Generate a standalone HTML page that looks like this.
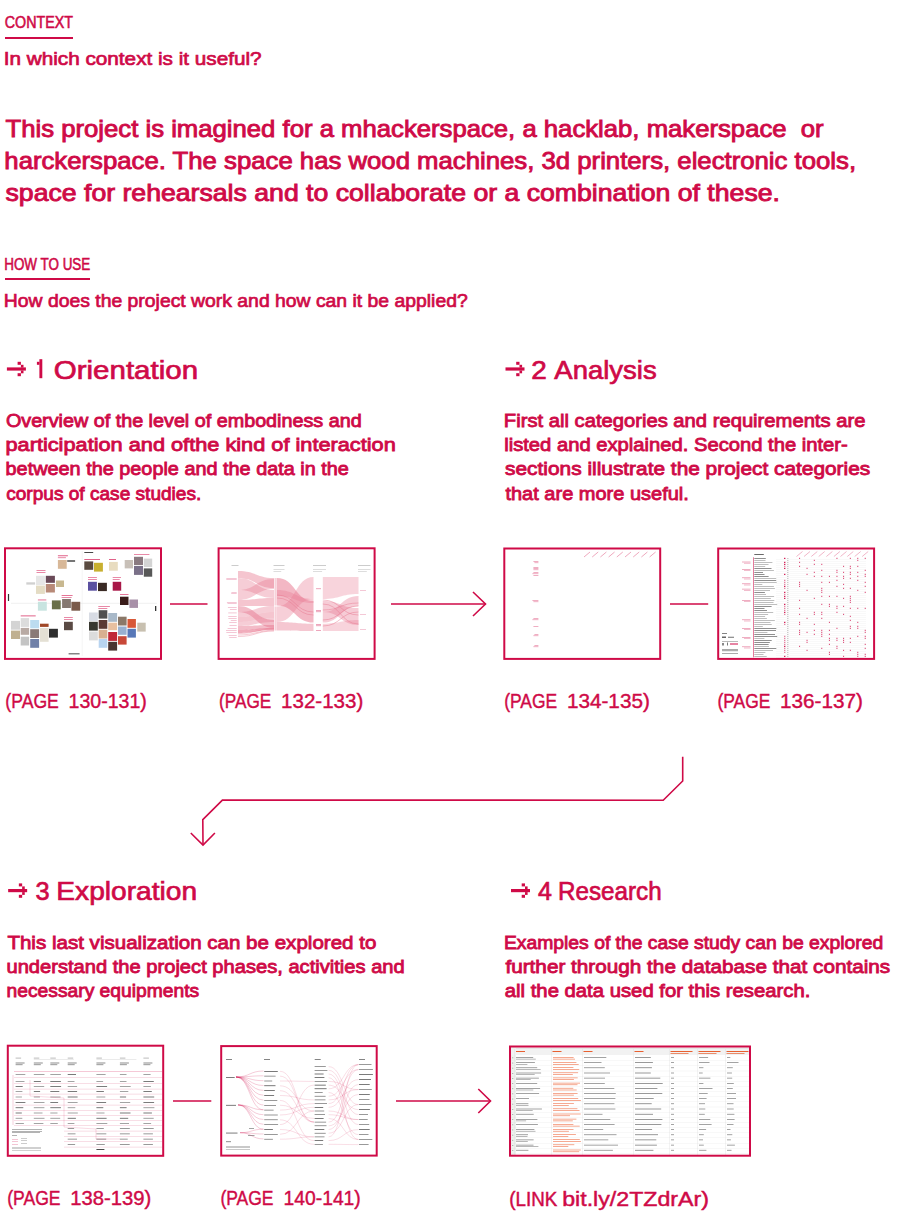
<!DOCTYPE html>
<html><head><meta charset="utf-8"><title>How to use</title>
<style>
html,body{margin:0;padding:0;background:#fff;}
body{width:920px;height:1216px;overflow:hidden;position:relative;}
svg{position:absolute;left:0;top:0;display:block;}
text{font-family:"Liberation Sans",sans-serif;}
</style></head><body>
<svg width="920" height="1216" viewBox="0 0 920 1216">
<line x1="11" y1="603.3" x2="157" y2="603.3" stroke="#d6d6d6" stroke-width="0.4"/>
<line x1="82.2" y1="551" x2="82.2" y2="656" stroke="#e6e6e6" stroke-width="0.4"/>
<rect x="7.9" y="594.0" width="1.2" height="7.0" fill="#333"/>
<rect x="155.0" y="606.0" width="1.3" height="5.0" fill="#333"/>
<rect x="57.9" y="555.4" width="10.0" height="0.8" fill="#cf0a47" fill-opacity="0.8"/>
<rect x="57.9" y="557.5" width="8.0" height="0.6" fill="#cf0a47" fill-opacity="0.8"/>
<rect x="36.5" y="570.3" width="9.0" height="0.6" fill="#cf0a47" fill-opacity="0.8"/>
<rect x="36.5" y="572.4" width="9.0" height="0.6" fill="#cf0a47" fill-opacity="0.8"/>
<rect x="37.9" y="599.6" width="8.4" height="0.7" fill="#cf0a47" fill-opacity="0.8"/>
<rect x="61.6" y="595.0" width="11.0" height="0.7" fill="#cf0a47" fill-opacity="0.8"/>
<rect x="61.6" y="597.0" width="10.0" height="0.6" fill="#cf0a47" fill-opacity="0.8"/>
<rect x="20.7" y="615.5" width="15.0" height="0.8" fill="#cf0a47" fill-opacity="0.8"/>
<rect x="64.0" y="617.0" width="8.8" height="0.6" fill="#cf0a47" fill-opacity="0.8"/>
<rect x="64.0" y="619.3" width="8.8" height="0.6" fill="#cf0a47" fill-opacity="0.8"/>
<rect x="84.3" y="559.0" width="15.7" height="0.8" fill="#cf0a47" fill-opacity="0.8"/>
<rect x="109.0" y="559.0" width="7.0" height="0.8" fill="#cf0a47" fill-opacity="0.8"/>
<rect x="134.0" y="554.2" width="15.4" height="0.6" fill="#cf0a47" fill-opacity="0.8"/>
<rect x="88.0" y="577.3" width="8.9" height="0.6" fill="#cf0a47" fill-opacity="0.8"/>
<rect x="88.0" y="579.3" width="8.9" height="0.6" fill="#cf0a47" fill-opacity="0.8"/>
<rect x="112.7" y="577.3" width="8.3" height="0.6" fill="#cf0a47" fill-opacity="0.8"/>
<rect x="112.7" y="579.3" width="7.0" height="0.6" fill="#cf0a47" fill-opacity="0.8"/>
<rect x="120.0" y="594.3" width="8.5" height="0.7" fill="#cf0a47" fill-opacity="0.8"/>
<rect x="98.3" y="606.2" width="11.6" height="0.6" fill="#cf0a47" fill-opacity="0.8"/>
<rect x="98.3" y="608.3" width="9.0" height="0.6" fill="#cf0a47" fill-opacity="0.8"/>
<rect x="57.9" y="560.0" width="8.8" height="8.8" fill="#d8b898"/>
<rect x="67.2" y="560.2" width="7.9" height="1.6" fill="#555"/>
<rect x="26.3" y="582.3" width="8.8" height="2.3" fill="#d0d0d0"/>
<rect x="36.0" y="575.8" width="8.9" height="9.3" fill="#e6e6e6"/>
<rect x="45.8" y="575.8" width="9.1" height="7.0" fill="#6a4a58"/>
<rect x="45.8" y="584.0" width="9.1" height="8.5" fill="#b88a78"/>
<rect x="36.0" y="585.6" width="8.9" height="8.3" fill="#e4dcc4"/>
<rect x="56.0" y="580.5" width="8.0" height="6.5" fill="#c8b890"/>
<rect x="37.9" y="601.8" width="8.9" height="8.9" fill="#c8e4e0"/>
<rect x="51.9" y="600.4" width="8.8" height="8.9" fill="#6a7048"/>
<rect x="62.1" y="599.0" width="8.8" height="9.0" fill="#857870"/>
<rect x="71.4" y="601.8" width="8.8" height="8.9" fill="#7a5a4a"/>
<rect x="11.0" y="620.9" width="9.0" height="8.8" fill="#d4d4d4"/>
<rect x="11.0" y="630.6" width="9.0" height="8.4" fill="#c0b090"/>
<rect x="20.7" y="618.1" width="8.4" height="8.8" fill="#dcdcdc"/>
<rect x="20.7" y="627.9" width="8.4" height="6.9" fill="#b8aaa4"/>
<rect x="20.7" y="636.7" width="8.4" height="8.8" fill="#c4c4c4"/>
<rect x="30.2" y="620.0" width="8.9" height="8.3" fill="#bcdcf0"/>
<rect x="30.2" y="629.2" width="8.9" height="8.8" fill="#8a7a78"/>
<rect x="30.2" y="639.0" width="8.9" height="8.8" fill="#7080a8"/>
<rect x="40.0" y="623.7" width="8.6" height="3.2" fill="#a04828"/>
<rect x="40.0" y="627.9" width="8.6" height="13.9" fill="#e4e0d4"/>
<rect x="49.0" y="628.8" width="8.9" height="8.8" fill="#2e2e2e"/>
<rect x="64.0" y="621.8" width="8.8" height="8.4" fill="#5a4a44"/>
<rect x="84.3" y="561.4" width="8.9" height="8.4" fill="#5a4a40"/>
<rect x="94.0" y="562.8" width="8.9" height="8.8" fill="#c8b030"/>
<rect x="109.0" y="561.9" width="8.8" height="8.8" fill="#e8dcc0"/>
<rect x="124.7" y="560.0" width="8.3" height="8.4" fill="#c8c0b8"/>
<rect x="134.0" y="556.8" width="9.0" height="8.3" fill="#8a7a80"/>
<rect x="134.0" y="566.0" width="9.0" height="8.9" fill="#7a7088"/>
<rect x="143.8" y="558.6" width="8.4" height="8.4" fill="#d4d4d4"/>
<rect x="143.8" y="568.4" width="8.4" height="8.3" fill="#585858"/>
<rect x="88.0" y="581.8" width="8.9" height="8.9" fill="#5a50a0"/>
<rect x="98.0" y="582.8" width="8.9" height="8.3" fill="#3a2a24"/>
<rect x="112.7" y="581.8" width="8.5" height="8.9" fill="#a81848"/>
<rect x="120.0" y="596.7" width="8.5" height="8.3" fill="#3a1c1a"/>
<rect x="129.4" y="599.5" width="8.6" height="8.4" fill="#a890a8"/>
<rect x="89.0" y="612.5" width="8.8" height="8.4" fill="#d8dce4"/>
<rect x="89.0" y="621.8" width="8.8" height="8.8" fill="#383830"/>
<rect x="89.0" y="631.6" width="8.8" height="8.8" fill="#dcdcdc"/>
<rect x="98.7" y="610.2" width="8.6" height="8.4" fill="#505050"/>
<rect x="98.7" y="620.0" width="8.6" height="8.8" fill="#5a3a34"/>
<rect x="98.7" y="629.7" width="8.6" height="8.8" fill="#d8b090"/>
<rect x="98.7" y="639.0" width="8.6" height="8.8" fill="#b8d4f0"/>
<rect x="108.2" y="613.0" width="8.9" height="8.8" fill="#a8b8c8"/>
<rect x="108.2" y="622.7" width="8.9" height="7.5" fill="#e8c0a0"/>
<rect x="108.2" y="632.0" width="8.9" height="8.9" fill="#c02838"/>
<rect x="108.2" y="641.8" width="8.9" height="8.8" fill="#4a3430"/>
<rect x="118.0" y="616.7" width="8.6" height="8.8" fill="#8a7868"/>
<rect x="118.0" y="626.5" width="8.6" height="8.3" fill="#98b0d0"/>
<rect x="118.0" y="636.2" width="8.6" height="8.4" fill="#c84838"/>
<rect x="127.5" y="619.0" width="8.4" height="8.8" fill="#d85838"/>
<rect x="127.5" y="628.8" width="8.4" height="8.8" fill="#5878b8"/>
<rect x="137.3" y="622.7" width="8.4" height="8.9" fill="#c8c0b0"/>
<rect x="68.6" y="653.2" width="11.0" height="1.2" fill="#666"/>
<rect x="84.3" y="552.0" width="8.9" height="0.9" fill="#333"/>
<rect x="231.5" y="565.0" width="7.0" height="0.5" fill="#999"/>
<rect x="273.5" y="565.0" width="11.0" height="0.5" fill="#999"/>
<rect x="313.0" y="565.0" width="13.0" height="0.5" fill="#999"/>
<rect x="358.0" y="565.0" width="12.5" height="0.5" fill="#999"/>
<rect x="273.5" y="569.0" width="11.0" height="0.4" fill="#aaa"/>
<rect x="273.5" y="571.0" width="7.7" height="0.4" fill="#aaa"/>
<rect x="313.0" y="569.0" width="13.0" height="0.4" fill="#aaa"/>
<rect x="313.0" y="571.0" width="9.1" height="0.4" fill="#aaa"/>
<rect x="358.0" y="569.0" width="12.5" height="0.4" fill="#aaa"/>
<rect x="358.0" y="571.0" width="8.8" height="0.4" fill="#aaa"/>
<rect x="226.3" y="578.0" width="10.4" height="0.5" fill="#cf0a47" fill-opacity="0.45"/>
<rect x="226.3" y="579.5" width="10.4" height="0.5" fill="#cf0a47" fill-opacity="0.45"/>
<rect x="231.4" y="592.0" width="5.3" height="0.5" fill="#cf0a47" fill-opacity="0.45"/>
<rect x="231.2" y="593.5" width="5.5" height="0.5" fill="#cf0a47" fill-opacity="0.45"/>
<rect x="226.9" y="602.0" width="9.8" height="0.5" fill="#cf0a47" fill-opacity="0.45"/>
<rect x="227.5" y="603.5" width="9.2" height="0.5" fill="#cf0a47" fill-opacity="0.45"/>
<rect x="227.9" y="607.5" width="8.8" height="0.5" fill="#cf0a47" fill-opacity="0.45"/>
<rect x="229.9" y="609.0" width="6.8" height="0.5" fill="#cf0a47" fill-opacity="0.45"/>
<rect x="228.2" y="612.7" width="8.5" height="0.5" fill="#cf0a47" fill-opacity="0.45"/>
<rect x="228.2" y="616.5" width="8.5" height="0.5" fill="#cf0a47" fill-opacity="0.45"/>
<rect x="228.4" y="618.0" width="8.3" height="0.5" fill="#cf0a47" fill-opacity="0.45"/>
<rect x="230.8" y="620.5" width="5.9" height="0.5" fill="#cf0a47" fill-opacity="0.45"/>
<rect x="229.2" y="622.5" width="7.5" height="0.5" fill="#cf0a47" fill-opacity="0.45"/>
<rect x="229.5" y="625.0" width="7.2" height="0.5" fill="#cf0a47" fill-opacity="0.45"/>
<rect x="227.6" y="628.0" width="9.1" height="0.5" fill="#cf0a47" fill-opacity="0.45"/>
<rect x="226.0" y="630.5" width="10.7" height="0.5" fill="#cf0a47" fill-opacity="0.45"/>
<rect x="226.3" y="632.5" width="10.4" height="0.5" fill="#cf0a47" fill-opacity="0.45"/>
<rect x="228.6" y="635.0" width="8.1" height="0.5" fill="#cf0a47" fill-opacity="0.45"/>
<rect x="229.2" y="637.5" width="7.5" height="0.5" fill="#cf0a47" fill-opacity="0.45"/>
<path d="M238.0,571.0 C256.0,571.0 256.0,578.0 274.0,578.0 L274.0,588.0 C256.0,588.0 256.0,578.0 238.0,578.0 Z" fill="#e87a92" fill-opacity="0.4375"/>
<path d="M238.0,578.0 C256.0,578.0 256.0,590.0 274.0,590.0 L274.0,598.0 C256.0,598.0 256.0,590.0 238.0,590.0 Z" fill="#e87a92" fill-opacity="0.375"/>
<path d="M238.0,590.0 C256.0,590.0 256.0,579.0 274.0,579.0 L274.0,589.0 C256.0,589.0 256.0,600.0 238.0,600.0 Z" fill="#e87a92" fill-opacity="0.375"/>
<path d="M238.0,600.0 C256.0,600.0 256.0,598.0 274.0,598.0 L274.0,606.0 C256.0,606.0 256.0,606.0 238.0,606.0 Z" fill="#e87a92" fill-opacity="0.4375"/>
<path d="M238.0,606.0 C256.0,606.0 256.0,620.0 274.0,620.0 L274.0,628.0 C256.0,628.0 256.0,612.0 238.0,612.0 Z" fill="#e87a92" fill-opacity="0.5"/>
<path d="M238.0,612.0 C256.0,612.0 256.0,606.0 274.0,606.0 L274.0,612.0 C256.0,612.0 256.0,617.0 238.0,617.0 Z" fill="#e87a92" fill-opacity="0.375"/>
<path d="M238.0,617.0 C256.0,617.0 256.0,612.0 274.0,612.0 L274.0,618.0 C256.0,618.0 256.0,622.0 238.0,622.0 Z" fill="#e87a92" fill-opacity="0.4375"/>
<path d="M238.0,622.0 C256.0,622.0 256.0,618.0 274.0,618.0 L274.0,622.0 C256.0,622.0 256.0,626.0 238.0,626.0 Z" fill="#e87a92" fill-opacity="0.375"/>
<path d="M238.0,626.0 C256.0,626.0 256.0,625.0 274.0,625.0 L274.0,629.0 C256.0,629.0 256.0,630.0 238.0,630.0 Z" fill="#e87a92" fill-opacity="0.5"/>
<path d="M238.0,630.0 C256.0,630.0 256.0,628.0 274.0,628.0 L274.0,630.0 C256.0,630.0 256.0,633.0 238.0,633.0 Z" fill="#e87a92" fill-opacity="0.625"/>
<path d="M238.0,633.5 C256.0,633.5 256.0,629.0 274.0,629.0" stroke="#e87a92" stroke-width="0.5" stroke-opacity="0.8" fill="none"/>
<path d="M238.0,635.0 C256.0,635.0 256.0,630.5 274.0,630.5" stroke="#e87a92" stroke-width="0.5" stroke-opacity="0.8" fill="none"/>
<path d="M238.0,636.5 C256.0,636.5 256.0,631.0 274.0,631.0" stroke="#e87a92" stroke-width="0.5" stroke-opacity="0.8" fill="none"/>
<rect x="274.5" y="578.0" width="2.3" height="27.5" fill="#e87a92" fill-opacity="0.35"/>
<rect x="274.5" y="606.5" width="2.3" height="24.0" fill="#e87a92" fill-opacity="0.35"/>
<path d="M277.0,606.5 C295.2,606.5 295.2,577.0 313.5,577.0 L313.5,599.0 C295.2,599.0 295.2,622.0 277.0,622.0 Z" fill="#e87a92" fill-opacity="0.36"/>
<path d="M277.0,578.0 C295.2,578.0 295.2,601.0 313.5,601.0 L313.5,622.6 C295.2,622.6 295.2,605.5 277.0,605.5 Z" fill="#e87a92" fill-opacity="0.54"/>
<path d="M277.0,622.0 C295.2,622.0 295.2,623.7 313.5,623.7 L313.5,631.0 C295.2,631.0 295.2,630.5 277.0,630.5 Z" fill="#e87a92" fill-opacity="0.42"/>
<path d="M277.0,590.0 C295.2,590.0 295.2,599.0 313.5,599.0 L313.5,603.0 C295.2,603.0 295.2,596.0 277.0,596.0 Z" fill="#e87a92" fill-opacity="0.36"/>
<rect x="316.0" y="588.5" width="5.0" height="0.6" fill="#cf0a47" fill-opacity="0.6"/>
<rect x="316.0" y="610.0" width="5.0" height="0.6" fill="#cf0a47" fill-opacity="0.6"/>
<rect x="316.0" y="611.5" width="5.0" height="0.6" fill="#cf0a47" fill-opacity="0.6"/>
<rect x="316.0" y="624.0" width="5.0" height="0.6" fill="#cf0a47" fill-opacity="0.6"/>
<rect x="316.0" y="625.5" width="5.0" height="0.6" fill="#cf0a47" fill-opacity="0.6"/>
<rect x="316.0" y="630.0" width="5.0" height="0.6" fill="#cf0a47" fill-opacity="0.6"/>
<path d="M322.8,577.0 C340.6,577.0 340.6,577.0 358.5,577.0 L358.5,594.0 C340.6,594.0 340.6,599.0 322.8,599.0 Z" fill="#e87a92" fill-opacity="0.32"/>
<path d="M322.8,601.0 C340.6,601.0 340.6,608.0 358.5,608.0 L358.5,625.0 C340.6,625.0 340.6,612.0 322.8,612.0 Z" fill="#e87a92" fill-opacity="0.38"/>
<path d="M322.8,612.0 C340.6,612.0 340.6,596.0 358.5,596.0 L358.5,606.0 C340.6,606.0 340.6,622.6 322.8,622.6 Z" fill="#e87a92" fill-opacity="0.38"/>
<path d="M322.8,623.7 C340.6,623.7 340.6,620.0 358.5,620.0 L358.5,631.0 C340.6,631.0 340.6,631.0 322.8,631.0 Z" fill="#e87a92" fill-opacity="0.32"/>
<rect x="360.0" y="590.0" width="6.0" height="0.5" fill="#cf0a47" fill-opacity="0.45"/>
<rect x="360.0" y="614.0" width="6.0" height="0.5" fill="#cf0a47" fill-opacity="0.45"/>
<rect x="360.0" y="629.0" width="6.0" height="0.5" fill="#cf0a47" fill-opacity="0.45"/>
<path d="M322.8,600.0 C340.6,600.0 340.6,615.0 358.5,615.0" stroke="#e87a92" stroke-width="0.6" stroke-opacity="0.8" fill="none"/>
<path d="M322.8,610.0 C340.6,610.0 340.6,603.0 358.5,603.0" stroke="#e87a92" stroke-width="0.6" stroke-opacity="0.8" fill="none"/>
<path d="M322.8,604.0 C340.6,604.0 340.6,624.0 358.5,624.0" stroke="#e87a92" stroke-width="0.6" stroke-opacity="0.8" fill="none"/>
<path d="M322.8,620.0 C340.6,620.0 340.6,606.0 358.5,606.0" stroke="#e87a92" stroke-width="0.6" stroke-opacity="0.8" fill="none"/>
<path d="M322.8,626.0 C340.6,626.0 340.6,612.0 358.5,612.0" stroke="#e87a92" stroke-width="0.6" stroke-opacity="0.8" fill="none"/>
<path d="M277.0,595.0 C295.2,595.0 295.2,612.0 313.5,612.0" stroke="#e87a92" stroke-width="0.6" stroke-opacity="0.8" fill="none"/>
<path d="M277.0,598.0 C295.2,598.0 295.2,615.0 313.5,615.0" stroke="#e87a92" stroke-width="0.6" stroke-opacity="0.8" fill="none"/>
<rect x="533.4" y="561.0" width="5.0" height="0.6" fill="#cf0a47" fill-opacity="0.55"/>
<rect x="534.4" y="562.5" width="4.0" height="0.6" fill="#cf0a47" fill-opacity="0.55"/>
<rect x="533.4" y="567.0" width="5.0" height="0.6" fill="#cf0a47" fill-opacity="0.55"/>
<rect x="533.4" y="568.2" width="5.0" height="0.6" fill="#cf0a47" fill-opacity="0.55"/>
<rect x="533.4" y="569.5" width="5.0" height="0.6" fill="#cf0a47" fill-opacity="0.55"/>
<rect x="533.4" y="572.0" width="5.0" height="0.6" fill="#cf0a47" fill-opacity="0.55"/>
<rect x="532.4" y="573.5" width="6.0" height="0.6" fill="#cf0a47" fill-opacity="0.55"/>
<rect x="533.4" y="575.0" width="5.0" height="0.6" fill="#cf0a47" fill-opacity="0.55"/>
<rect x="532.4" y="600.0" width="6.0" height="0.6" fill="#cf0a47" fill-opacity="0.55"/>
<rect x="533.4" y="601.5" width="5.0" height="0.6" fill="#cf0a47" fill-opacity="0.55"/>
<rect x="533.4" y="618.0" width="5.0" height="0.6" fill="#cf0a47" fill-opacity="0.55"/>
<rect x="532.4" y="619.5" width="6.0" height="0.6" fill="#cf0a47" fill-opacity="0.55"/>
<rect x="533.4" y="626.0" width="5.0" height="0.6" fill="#cf0a47" fill-opacity="0.55"/>
<rect x="534.4" y="634.0" width="4.0" height="0.6" fill="#cf0a47" fill-opacity="0.55"/>
<rect x="533.4" y="635.5" width="5.0" height="0.6" fill="#cf0a47" fill-opacity="0.55"/>
<rect x="534.4" y="645.0" width="4.0" height="0.6" fill="#cf0a47" fill-opacity="0.55"/>
<rect x="533.4" y="646.5" width="5.0" height="0.6" fill="#cf0a47" fill-opacity="0.55"/>
<line x1="584.0" y1="557" x2="590.0" y2="552" stroke="#cf0a47" stroke-width="0.6" stroke-opacity="0.6"/>
<line x1="592.2" y1="557" x2="598.2" y2="552" stroke="#cf0a47" stroke-width="0.6" stroke-opacity="0.6"/>
<line x1="600.4" y1="557" x2="606.4" y2="552" stroke="#cf0a47" stroke-width="0.6" stroke-opacity="0.6"/>
<line x1="608.6" y1="557" x2="614.6" y2="552" stroke="#cf0a47" stroke-width="0.6" stroke-opacity="0.6"/>
<line x1="616.8" y1="557" x2="622.8" y2="552" stroke="#cf0a47" stroke-width="0.6" stroke-opacity="0.6"/>
<line x1="625.0" y1="557" x2="631.0" y2="552" stroke="#cf0a47" stroke-width="0.6" stroke-opacity="0.6"/>
<line x1="633.2" y1="557" x2="639.2" y2="552" stroke="#cf0a47" stroke-width="0.6" stroke-opacity="0.6"/>
<line x1="641.4" y1="557" x2="647.4" y2="552" stroke="#cf0a47" stroke-width="0.6" stroke-opacity="0.6"/>
<line x1="649.6" y1="557" x2="655.6" y2="552" stroke="#cf0a47" stroke-width="0.6" stroke-opacity="0.6"/>
<rect x="754.3" y="554.0" width="9.5" height="0.8" fill="#444"/>
<rect x="753.2" y="557.3" width="0.6" height="100.0" fill="#cf0a47" fill-opacity="0.9"/>
<rect x="754.3" y="558.0" width="11.5" height="0.6" fill="#333" fill-opacity="0.9"/>
<rect x="776.0" y="559.1" width="90.0" height="0.2" fill="#e0e0e0"/>
<rect x="784.0" y="557.8" width="1.4" height="1.2" fill="#cf0a47" fill-opacity="0.9"/>
<rect x="787.0" y="558.0" width="1.5" height="0.6" fill="#aaa"/>
<rect x="799.0" y="557.8" width="1.1" height="1.1" fill="#cf0a47" fill-opacity="0.75"/>
<rect x="836.4" y="557.8" width="1.1" height="1.1" fill="#cf0a47" fill-opacity="0.75"/>
<rect x="849.8" y="557.8" width="1.1" height="1.1" fill="#cf0a47" fill-opacity="0.75"/>
<rect x="857.2" y="557.8" width="1.1" height="1.1" fill="#cf0a47" fill-opacity="0.75"/>
<rect x="864.7" y="557.8" width="1.1" height="1.1" fill="#cf0a47" fill-opacity="0.75"/>
<rect x="754.3" y="560.0" width="11.2" height="0.6" fill="#777" fill-opacity="0.8"/>
<rect x="776.0" y="561.1" width="90.0" height="0.2" fill="#e0e0e0"/>
<rect x="787.0" y="560.0" width="1.5" height="0.6" fill="#aaa"/>
<rect x="813.8" y="559.8" width="1.1" height="1.1" fill="#cf0a47" fill-opacity="0.75"/>
<rect x="857.2" y="559.8" width="1.1" height="1.1" fill="#cf0a47" fill-opacity="0.75"/>
<rect x="754.3" y="562.0" width="18.1" height="0.6" fill="#777" fill-opacity="0.8"/>
<rect x="776.0" y="563.1" width="90.0" height="0.2" fill="#e0e0e0"/>
<rect x="784.0" y="561.8" width="1.4" height="1.2" fill="#cf0a47" fill-opacity="0.9"/>
<rect x="787.0" y="562.0" width="1.5" height="0.6" fill="#aaa"/>
<rect x="799.0" y="561.8" width="1.1" height="1.1" fill="#cf0a47" fill-opacity="0.75"/>
<rect x="754.3" y="564.0" width="14.2" height="0.6" fill="#777" fill-opacity="0.8"/>
<rect x="776.0" y="565.1" width="90.0" height="0.2" fill="#e0e0e0"/>
<rect x="784.0" y="563.8" width="1.4" height="1.2" fill="#cf0a47" fill-opacity="0.9"/>
<rect x="787.0" y="564.0" width="1.5" height="0.6" fill="#aaa"/>
<rect x="813.8" y="563.8" width="1.1" height="1.1" fill="#cf0a47" fill-opacity="0.75"/>
<rect x="821.2" y="563.8" width="1.1" height="1.1" fill="#cf0a47" fill-opacity="0.75"/>
<rect x="754.3" y="566.0" width="10.9" height="0.6" fill="#777" fill-opacity="0.8"/>
<rect x="776.0" y="567.1" width="90.0" height="0.2" fill="#e0e0e0"/>
<rect x="784.0" y="565.8" width="1.4" height="1.2" fill="#cf0a47" fill-opacity="0.5"/>
<rect x="787.0" y="566.0" width="1.5" height="0.6" fill="#aaa"/>
<rect x="799.0" y="565.8" width="1.1" height="1.1" fill="#cf0a47" fill-opacity="0.75"/>
<rect x="843.0" y="565.8" width="1.1" height="1.1" fill="#cf0a47" fill-opacity="0.75"/>
<rect x="849.8" y="565.8" width="1.1" height="1.1" fill="#cf0a47" fill-opacity="0.75"/>
<rect x="857.2" y="565.8" width="1.1" height="1.1" fill="#cf0a47" fill-opacity="0.75"/>
<rect x="754.3" y="568.0" width="17.2" height="0.6" fill="#333" fill-opacity="0.9"/>
<rect x="776.0" y="569.1" width="90.0" height="0.2" fill="#e0e0e0"/>
<rect x="784.0" y="567.8" width="1.4" height="1.2" fill="#cf0a47" fill-opacity="0.9"/>
<rect x="787.0" y="568.0" width="1.5" height="0.6" fill="#aaa"/>
<rect x="806.5" y="567.8" width="1.1" height="1.1" fill="#cf0a47" fill-opacity="0.75"/>
<rect x="849.8" y="567.8" width="1.1" height="1.1" fill="#cf0a47" fill-opacity="0.75"/>
<rect x="754.3" y="570.0" width="19.6" height="0.6" fill="#777" fill-opacity="0.8"/>
<rect x="776.0" y="571.1" width="90.0" height="0.2" fill="#e0e0e0"/>
<rect x="787.0" y="570.0" width="1.5" height="0.6" fill="#aaa"/>
<rect x="821.2" y="569.8" width="1.1" height="1.1" fill="#cf0a47" fill-opacity="0.75"/>
<rect x="836.4" y="569.8" width="1.1" height="1.1" fill="#cf0a47" fill-opacity="0.75"/>
<rect x="864.7" y="569.8" width="1.1" height="1.1" fill="#cf0a47" fill-opacity="0.75"/>
<rect x="754.3" y="572.0" width="8.7" height="0.6" fill="#333" fill-opacity="0.9"/>
<rect x="776.0" y="573.1" width="90.0" height="0.2" fill="#e0e0e0"/>
<rect x="787.0" y="572.0" width="1.5" height="0.6" fill="#aaa"/>
<rect x="813.8" y="571.8" width="1.1" height="1.1" fill="#cf0a47" fill-opacity="0.75"/>
<rect x="836.4" y="571.8" width="1.1" height="1.1" fill="#cf0a47" fill-opacity="0.75"/>
<rect x="843.0" y="571.8" width="1.1" height="1.1" fill="#cf0a47" fill-opacity="0.75"/>
<rect x="849.8" y="571.8" width="1.1" height="1.1" fill="#cf0a47" fill-opacity="0.75"/>
<rect x="857.2" y="571.8" width="1.1" height="1.1" fill="#cf0a47" fill-opacity="0.75"/>
<rect x="754.3" y="574.0" width="10.2" height="0.6" fill="#333" fill-opacity="0.9"/>
<rect x="776.0" y="575.1" width="90.0" height="0.2" fill="#e0e0e0"/>
<rect x="784.0" y="573.8" width="1.4" height="1.2" fill="#cf0a47" fill-opacity="0.9"/>
<rect x="787.0" y="574.0" width="1.5" height="0.6" fill="#aaa"/>
<rect x="806.5" y="573.8" width="1.1" height="1.1" fill="#cf0a47" fill-opacity="0.75"/>
<rect x="849.8" y="573.8" width="1.1" height="1.1" fill="#cf0a47" fill-opacity="0.75"/>
<rect x="864.7" y="573.8" width="1.1" height="1.1" fill="#cf0a47" fill-opacity="0.75"/>
<rect x="754.3" y="576.0" width="14.3" height="0.6" fill="#333" fill-opacity="0.9"/>
<rect x="776.0" y="577.1" width="90.0" height="0.2" fill="#e0e0e0"/>
<rect x="787.0" y="576.0" width="1.5" height="0.6" fill="#aaa"/>
<rect x="813.8" y="575.8" width="1.1" height="1.1" fill="#cf0a47" fill-opacity="0.75"/>
<rect x="821.2" y="575.8" width="1.1" height="1.1" fill="#cf0a47" fill-opacity="0.75"/>
<rect x="828.9" y="575.8" width="1.1" height="1.1" fill="#cf0a47" fill-opacity="0.75"/>
<rect x="836.4" y="575.8" width="1.1" height="1.1" fill="#cf0a47" fill-opacity="0.75"/>
<rect x="843.0" y="575.8" width="1.1" height="1.1" fill="#cf0a47" fill-opacity="0.75"/>
<rect x="857.2" y="575.8" width="1.1" height="1.1" fill="#cf0a47" fill-opacity="0.75"/>
<rect x="864.7" y="575.8" width="1.1" height="1.1" fill="#cf0a47" fill-opacity="0.75"/>
<rect x="754.3" y="578.0" width="21.9" height="0.6" fill="#777" fill-opacity="0.8"/>
<rect x="776.0" y="579.1" width="90.0" height="0.2" fill="#e0e0e0"/>
<rect x="787.0" y="578.0" width="1.5" height="0.6" fill="#aaa"/>
<rect x="843.0" y="577.8" width="1.1" height="1.1" fill="#cf0a47" fill-opacity="0.75"/>
<rect x="849.8" y="577.8" width="1.1" height="1.1" fill="#cf0a47" fill-opacity="0.75"/>
<rect x="754.3" y="580.0" width="21.9" height="0.6" fill="#333" fill-opacity="0.9"/>
<rect x="776.0" y="581.1" width="90.0" height="0.2" fill="#e0e0e0"/>
<rect x="784.0" y="579.8" width="1.4" height="1.2" fill="#cf0a47" fill-opacity="0.5"/>
<rect x="787.0" y="580.0" width="1.5" height="0.6" fill="#aaa"/>
<rect x="836.4" y="579.8" width="1.1" height="1.1" fill="#cf0a47" fill-opacity="0.75"/>
<rect x="857.2" y="579.8" width="1.1" height="1.1" fill="#cf0a47" fill-opacity="0.75"/>
<rect x="754.3" y="582.0" width="22.4" height="0.6" fill="#777" fill-opacity="0.8"/>
<rect x="776.0" y="583.1" width="90.0" height="0.2" fill="#e0e0e0"/>
<rect x="784.0" y="581.8" width="1.4" height="1.2" fill="#cf0a47" fill-opacity="0.5"/>
<rect x="787.0" y="582.0" width="1.5" height="0.6" fill="#aaa"/>
<rect x="799.0" y="581.8" width="1.1" height="1.1" fill="#cf0a47" fill-opacity="0.75"/>
<rect x="821.2" y="581.8" width="1.1" height="1.1" fill="#cf0a47" fill-opacity="0.75"/>
<rect x="828.9" y="581.8" width="1.1" height="1.1" fill="#cf0a47" fill-opacity="0.75"/>
<rect x="864.7" y="581.8" width="1.1" height="1.1" fill="#cf0a47" fill-opacity="0.75"/>
<rect x="754.3" y="584.0" width="8.0" height="0.6" fill="#777" fill-opacity="0.8"/>
<rect x="776.0" y="585.1" width="90.0" height="0.2" fill="#e0e0e0"/>
<rect x="784.0" y="583.8" width="1.4" height="1.2" fill="#cf0a47" fill-opacity="0.5"/>
<rect x="787.0" y="584.0" width="1.5" height="0.6" fill="#aaa"/>
<rect x="799.0" y="583.8" width="1.1" height="1.1" fill="#cf0a47" fill-opacity="0.75"/>
<rect x="843.0" y="583.8" width="1.1" height="1.1" fill="#cf0a47" fill-opacity="0.75"/>
<rect x="754.3" y="586.0" width="19.6" height="0.6" fill="#777" fill-opacity="0.8"/>
<rect x="776.0" y="587.1" width="90.0" height="0.2" fill="#e0e0e0"/>
<rect x="784.0" y="585.8" width="1.4" height="1.2" fill="#cf0a47" fill-opacity="0.9"/>
<rect x="787.0" y="586.0" width="1.5" height="0.6" fill="#aaa"/>
<rect x="799.0" y="585.8" width="1.1" height="1.1" fill="#cf0a47" fill-opacity="0.75"/>
<rect x="836.4" y="585.8" width="1.1" height="1.1" fill="#cf0a47" fill-opacity="0.75"/>
<rect x="864.7" y="585.8" width="1.1" height="1.1" fill="#cf0a47" fill-opacity="0.75"/>
<rect x="754.3" y="588.0" width="20.6" height="0.6" fill="#777" fill-opacity="0.8"/>
<rect x="776.0" y="589.1" width="90.0" height="0.2" fill="#e0e0e0"/>
<rect x="784.0" y="587.8" width="1.4" height="1.2" fill="#cf0a47" fill-opacity="0.5"/>
<rect x="787.0" y="588.0" width="1.5" height="0.6" fill="#aaa"/>
<rect x="821.2" y="587.8" width="1.1" height="1.1" fill="#cf0a47" fill-opacity="0.75"/>
<rect x="843.0" y="587.8" width="1.1" height="1.1" fill="#cf0a47" fill-opacity="0.75"/>
<rect x="849.8" y="587.8" width="1.1" height="1.1" fill="#cf0a47" fill-opacity="0.75"/>
<rect x="754.3" y="590.0" width="15.7" height="0.6" fill="#777" fill-opacity="0.8"/>
<rect x="776.0" y="591.1" width="90.0" height="0.2" fill="#e0e0e0"/>
<rect x="787.0" y="590.0" width="1.5" height="0.6" fill="#aaa"/>
<rect x="806.5" y="589.8" width="1.1" height="1.1" fill="#cf0a47" fill-opacity="0.75"/>
<rect x="821.2" y="589.8" width="1.1" height="1.1" fill="#cf0a47" fill-opacity="0.75"/>
<rect x="857.2" y="589.8" width="1.1" height="1.1" fill="#cf0a47" fill-opacity="0.75"/>
<rect x="754.3" y="592.0" width="10.6" height="0.6" fill="#333" fill-opacity="0.9"/>
<rect x="776.0" y="593.1" width="90.0" height="0.2" fill="#e0e0e0"/>
<rect x="784.0" y="591.8" width="1.4" height="1.2" fill="#cf0a47" fill-opacity="0.9"/>
<rect x="787.0" y="592.0" width="1.5" height="0.6" fill="#aaa"/>
<rect x="821.2" y="591.8" width="1.1" height="1.1" fill="#cf0a47" fill-opacity="0.75"/>
<rect x="864.7" y="591.8" width="1.1" height="1.1" fill="#cf0a47" fill-opacity="0.75"/>
<rect x="754.3" y="594.0" width="11.7" height="0.6" fill="#777" fill-opacity="0.8"/>
<rect x="776.0" y="595.1" width="90.0" height="0.2" fill="#e0e0e0"/>
<rect x="784.0" y="593.8" width="1.4" height="1.2" fill="#cf0a47" fill-opacity="0.5"/>
<rect x="787.0" y="594.0" width="1.5" height="0.6" fill="#aaa"/>
<rect x="754.3" y="596.0" width="19.8" height="0.6" fill="#777" fill-opacity="0.8"/>
<rect x="776.0" y="597.1" width="90.0" height="0.2" fill="#e0e0e0"/>
<rect x="784.0" y="595.8" width="1.4" height="1.2" fill="#cf0a47" fill-opacity="0.9"/>
<rect x="787.0" y="596.0" width="1.5" height="0.6" fill="#aaa"/>
<rect x="821.2" y="595.8" width="1.1" height="1.1" fill="#cf0a47" fill-opacity="0.75"/>
<rect x="828.9" y="595.8" width="1.1" height="1.1" fill="#cf0a47" fill-opacity="0.75"/>
<rect x="836.4" y="595.8" width="1.1" height="1.1" fill="#cf0a47" fill-opacity="0.75"/>
<rect x="849.8" y="595.8" width="1.1" height="1.1" fill="#cf0a47" fill-opacity="0.75"/>
<rect x="754.3" y="598.0" width="16.6" height="0.6" fill="#777" fill-opacity="0.8"/>
<rect x="776.0" y="599.1" width="90.0" height="0.2" fill="#e0e0e0"/>
<rect x="784.0" y="597.8" width="1.4" height="1.2" fill="#cf0a47" fill-opacity="0.9"/>
<rect x="787.0" y="598.0" width="1.5" height="0.6" fill="#aaa"/>
<rect x="813.8" y="597.8" width="1.1" height="1.1" fill="#cf0a47" fill-opacity="0.75"/>
<rect x="843.0" y="597.8" width="1.1" height="1.1" fill="#cf0a47" fill-opacity="0.75"/>
<rect x="849.8" y="597.8" width="1.1" height="1.1" fill="#cf0a47" fill-opacity="0.75"/>
<rect x="754.3" y="600.0" width="20.0" height="0.6" fill="#777" fill-opacity="0.8"/>
<rect x="776.0" y="601.1" width="90.0" height="0.2" fill="#e0e0e0"/>
<rect x="787.0" y="600.0" width="1.5" height="0.6" fill="#aaa"/>
<rect x="799.0" y="599.8" width="1.1" height="1.1" fill="#cf0a47" fill-opacity="0.75"/>
<rect x="849.8" y="599.8" width="1.1" height="1.1" fill="#cf0a47" fill-opacity="0.75"/>
<rect x="754.3" y="602.0" width="19.2" height="0.6" fill="#777" fill-opacity="0.8"/>
<rect x="776.0" y="603.1" width="90.0" height="0.2" fill="#e0e0e0"/>
<rect x="787.0" y="602.0" width="1.5" height="0.6" fill="#aaa"/>
<rect x="849.8" y="601.8" width="1.1" height="1.1" fill="#cf0a47" fill-opacity="0.75"/>
<rect x="754.3" y="604.0" width="22.9" height="0.6" fill="#777" fill-opacity="0.8"/>
<rect x="776.0" y="605.1" width="90.0" height="0.2" fill="#e0e0e0"/>
<rect x="784.0" y="603.8" width="1.4" height="1.2" fill="#cf0a47" fill-opacity="0.9"/>
<rect x="787.0" y="604.0" width="1.5" height="0.6" fill="#aaa"/>
<rect x="821.2" y="603.8" width="1.1" height="1.1" fill="#cf0a47" fill-opacity="0.75"/>
<rect x="828.9" y="603.8" width="1.1" height="1.1" fill="#cf0a47" fill-opacity="0.75"/>
<rect x="754.3" y="606.0" width="17.3" height="0.6" fill="#333" fill-opacity="0.9"/>
<rect x="776.0" y="607.1" width="90.0" height="0.2" fill="#e0e0e0"/>
<rect x="784.0" y="605.8" width="1.4" height="1.2" fill="#cf0a47" fill-opacity="0.5"/>
<rect x="787.0" y="606.0" width="1.5" height="0.6" fill="#aaa"/>
<rect x="828.9" y="605.8" width="1.1" height="1.1" fill="#cf0a47" fill-opacity="0.75"/>
<rect x="836.4" y="605.8" width="1.1" height="1.1" fill="#cf0a47" fill-opacity="0.75"/>
<rect x="843.0" y="605.8" width="1.1" height="1.1" fill="#cf0a47" fill-opacity="0.75"/>
<rect x="754.3" y="608.0" width="10.2" height="0.6" fill="#333" fill-opacity="0.9"/>
<rect x="776.0" y="609.1" width="90.0" height="0.2" fill="#e0e0e0"/>
<rect x="784.0" y="607.8" width="1.4" height="1.2" fill="#cf0a47" fill-opacity="0.5"/>
<rect x="787.0" y="608.0" width="1.5" height="0.6" fill="#aaa"/>
<rect x="799.0" y="607.8" width="1.1" height="1.1" fill="#cf0a47" fill-opacity="0.75"/>
<rect x="836.4" y="607.8" width="1.1" height="1.1" fill="#cf0a47" fill-opacity="0.75"/>
<rect x="849.8" y="607.8" width="1.1" height="1.1" fill="#cf0a47" fill-opacity="0.75"/>
<rect x="857.2" y="607.8" width="1.1" height="1.1" fill="#cf0a47" fill-opacity="0.75"/>
<rect x="864.7" y="607.8" width="1.1" height="1.1" fill="#cf0a47" fill-opacity="0.75"/>
<rect x="754.3" y="610.0" width="12.7" height="0.6" fill="#333" fill-opacity="0.9"/>
<rect x="776.0" y="611.1" width="90.0" height="0.2" fill="#e0e0e0"/>
<rect x="784.0" y="609.8" width="1.4" height="1.2" fill="#cf0a47" fill-opacity="0.5"/>
<rect x="787.0" y="610.0" width="1.5" height="0.6" fill="#aaa"/>
<rect x="754.3" y="612.0" width="18.9" height="0.6" fill="#777" fill-opacity="0.8"/>
<rect x="776.0" y="613.1" width="90.0" height="0.2" fill="#e0e0e0"/>
<rect x="784.0" y="611.8" width="1.4" height="1.2" fill="#cf0a47" fill-opacity="0.9"/>
<rect x="787.0" y="612.0" width="1.5" height="0.6" fill="#aaa"/>
<rect x="813.8" y="611.8" width="1.1" height="1.1" fill="#cf0a47" fill-opacity="0.75"/>
<rect x="821.2" y="611.8" width="1.1" height="1.1" fill="#cf0a47" fill-opacity="0.75"/>
<rect x="836.4" y="611.8" width="1.1" height="1.1" fill="#cf0a47" fill-opacity="0.75"/>
<rect x="754.3" y="614.0" width="13.8" height="0.6" fill="#777" fill-opacity="0.8"/>
<rect x="776.0" y="615.1" width="90.0" height="0.2" fill="#e0e0e0"/>
<rect x="784.0" y="613.8" width="1.4" height="1.2" fill="#cf0a47" fill-opacity="0.5"/>
<rect x="787.0" y="614.0" width="1.5" height="0.6" fill="#aaa"/>
<rect x="799.0" y="613.8" width="1.1" height="1.1" fill="#cf0a47" fill-opacity="0.75"/>
<rect x="813.8" y="613.8" width="1.1" height="1.1" fill="#cf0a47" fill-opacity="0.75"/>
<rect x="821.2" y="613.8" width="1.1" height="1.1" fill="#cf0a47" fill-opacity="0.75"/>
<rect x="843.0" y="613.8" width="1.1" height="1.1" fill="#cf0a47" fill-opacity="0.75"/>
<rect x="754.3" y="616.0" width="10.8" height="0.6" fill="#777" fill-opacity="0.8"/>
<rect x="776.0" y="617.1" width="90.0" height="0.2" fill="#e0e0e0"/>
<rect x="787.0" y="616.0" width="1.5" height="0.6" fill="#aaa"/>
<rect x="849.8" y="615.8" width="1.1" height="1.1" fill="#cf0a47" fill-opacity="0.75"/>
<rect x="754.3" y="618.0" width="12.6" height="0.6" fill="#777" fill-opacity="0.8"/>
<rect x="776.0" y="619.1" width="90.0" height="0.2" fill="#e0e0e0"/>
<rect x="787.0" y="618.0" width="1.5" height="0.6" fill="#aaa"/>
<rect x="806.5" y="617.8" width="1.1" height="1.1" fill="#cf0a47" fill-opacity="0.75"/>
<rect x="821.2" y="617.8" width="1.1" height="1.1" fill="#cf0a47" fill-opacity="0.75"/>
<rect x="754.3" y="620.0" width="20.5" height="0.6" fill="#777" fill-opacity="0.8"/>
<rect x="776.0" y="621.1" width="90.0" height="0.2" fill="#e0e0e0"/>
<rect x="787.0" y="620.0" width="1.5" height="0.6" fill="#aaa"/>
<rect x="849.8" y="619.8" width="1.1" height="1.1" fill="#cf0a47" fill-opacity="0.75"/>
<rect x="754.3" y="622.0" width="16.2" height="0.6" fill="#777" fill-opacity="0.8"/>
<rect x="776.0" y="623.1" width="90.0" height="0.2" fill="#e0e0e0"/>
<rect x="784.0" y="621.8" width="1.4" height="1.2" fill="#cf0a47" fill-opacity="0.9"/>
<rect x="787.0" y="622.0" width="1.5" height="0.6" fill="#aaa"/>
<rect x="799.0" y="621.8" width="1.1" height="1.1" fill="#cf0a47" fill-opacity="0.75"/>
<rect x="828.9" y="621.8" width="1.1" height="1.1" fill="#cf0a47" fill-opacity="0.75"/>
<rect x="857.2" y="621.8" width="1.1" height="1.1" fill="#cf0a47" fill-opacity="0.75"/>
<rect x="754.3" y="624.0" width="17.4" height="0.6" fill="#777" fill-opacity="0.8"/>
<rect x="776.0" y="625.1" width="90.0" height="0.2" fill="#e0e0e0"/>
<rect x="784.0" y="623.8" width="1.4" height="1.2" fill="#cf0a47" fill-opacity="0.5"/>
<rect x="787.0" y="624.0" width="1.5" height="0.6" fill="#aaa"/>
<rect x="799.0" y="623.8" width="1.1" height="1.1" fill="#cf0a47" fill-opacity="0.75"/>
<rect x="813.8" y="623.8" width="1.1" height="1.1" fill="#cf0a47" fill-opacity="0.75"/>
<rect x="754.3" y="626.0" width="8.5" height="0.6" fill="#777" fill-opacity="0.8"/>
<rect x="776.0" y="627.1" width="90.0" height="0.2" fill="#e0e0e0"/>
<rect x="787.0" y="626.0" width="1.5" height="0.6" fill="#aaa"/>
<rect x="849.8" y="625.8" width="1.1" height="1.1" fill="#cf0a47" fill-opacity="0.75"/>
<rect x="857.2" y="625.8" width="1.1" height="1.1" fill="#cf0a47" fill-opacity="0.75"/>
<rect x="754.3" y="628.0" width="22.0" height="0.6" fill="#333" fill-opacity="0.9"/>
<rect x="776.0" y="629.1" width="90.0" height="0.2" fill="#e0e0e0"/>
<rect x="787.0" y="628.0" width="1.5" height="0.6" fill="#aaa"/>
<rect x="836.4" y="627.8" width="1.1" height="1.1" fill="#cf0a47" fill-opacity="0.75"/>
<rect x="849.8" y="627.8" width="1.1" height="1.1" fill="#cf0a47" fill-opacity="0.75"/>
<rect x="857.2" y="627.8" width="1.1" height="1.1" fill="#cf0a47" fill-opacity="0.75"/>
<rect x="754.3" y="630.0" width="21.7" height="0.6" fill="#333" fill-opacity="0.9"/>
<rect x="776.0" y="631.1" width="90.0" height="0.2" fill="#e0e0e0"/>
<rect x="787.0" y="630.0" width="1.5" height="0.6" fill="#aaa"/>
<rect x="799.0" y="629.8" width="1.1" height="1.1" fill="#cf0a47" fill-opacity="0.75"/>
<rect x="813.8" y="629.8" width="1.1" height="1.1" fill="#cf0a47" fill-opacity="0.75"/>
<rect x="821.2" y="629.8" width="1.1" height="1.1" fill="#cf0a47" fill-opacity="0.75"/>
<rect x="828.9" y="629.8" width="1.1" height="1.1" fill="#cf0a47" fill-opacity="0.75"/>
<rect x="864.7" y="629.8" width="1.1" height="1.1" fill="#cf0a47" fill-opacity="0.75"/>
<rect x="754.3" y="632.0" width="13.1" height="0.6" fill="#777" fill-opacity="0.8"/>
<rect x="776.0" y="633.1" width="90.0" height="0.2" fill="#e0e0e0"/>
<rect x="787.0" y="632.0" width="1.5" height="0.6" fill="#aaa"/>
<rect x="799.0" y="631.8" width="1.1" height="1.1" fill="#cf0a47" fill-opacity="0.75"/>
<rect x="806.5" y="631.8" width="1.1" height="1.1" fill="#cf0a47" fill-opacity="0.75"/>
<rect x="821.2" y="631.8" width="1.1" height="1.1" fill="#cf0a47" fill-opacity="0.75"/>
<rect x="864.7" y="631.8" width="1.1" height="1.1" fill="#cf0a47" fill-opacity="0.75"/>
<rect x="754.3" y="634.0" width="20.7" height="0.6" fill="#333" fill-opacity="0.9"/>
<rect x="776.0" y="635.1" width="90.0" height="0.2" fill="#e0e0e0"/>
<rect x="787.0" y="634.0" width="1.5" height="0.6" fill="#aaa"/>
<rect x="799.0" y="633.8" width="1.1" height="1.1" fill="#cf0a47" fill-opacity="0.75"/>
<rect x="813.8" y="633.8" width="1.1" height="1.1" fill="#cf0a47" fill-opacity="0.75"/>
<rect x="821.2" y="633.8" width="1.1" height="1.1" fill="#cf0a47" fill-opacity="0.75"/>
<rect x="828.9" y="633.8" width="1.1" height="1.1" fill="#cf0a47" fill-opacity="0.75"/>
<rect x="754.3" y="636.0" width="22.9" height="0.6" fill="#333" fill-opacity="0.9"/>
<rect x="776.0" y="637.1" width="90.0" height="0.2" fill="#e0e0e0"/>
<rect x="784.0" y="635.8" width="1.4" height="1.2" fill="#cf0a47" fill-opacity="0.5"/>
<rect x="787.0" y="636.0" width="1.5" height="0.6" fill="#aaa"/>
<rect x="821.2" y="635.8" width="1.1" height="1.1" fill="#cf0a47" fill-opacity="0.75"/>
<rect x="857.2" y="635.8" width="1.1" height="1.1" fill="#cf0a47" fill-opacity="0.75"/>
<rect x="864.7" y="635.8" width="1.1" height="1.1" fill="#cf0a47" fill-opacity="0.75"/>
<rect x="754.3" y="638.0" width="10.1" height="0.6" fill="#777" fill-opacity="0.8"/>
<rect x="776.0" y="639.1" width="90.0" height="0.2" fill="#e0e0e0"/>
<rect x="784.0" y="637.8" width="1.4" height="1.2" fill="#cf0a47" fill-opacity="0.5"/>
<rect x="787.0" y="638.0" width="1.5" height="0.6" fill="#aaa"/>
<rect x="828.9" y="637.8" width="1.1" height="1.1" fill="#cf0a47" fill-opacity="0.75"/>
<rect x="836.4" y="637.8" width="1.1" height="1.1" fill="#cf0a47" fill-opacity="0.75"/>
<rect x="843.0" y="637.8" width="1.1" height="1.1" fill="#cf0a47" fill-opacity="0.75"/>
<rect x="849.8" y="637.8" width="1.1" height="1.1" fill="#cf0a47" fill-opacity="0.75"/>
<rect x="864.7" y="637.8" width="1.1" height="1.1" fill="#cf0a47" fill-opacity="0.75"/>
<rect x="754.3" y="640.0" width="17.4" height="0.6" fill="#333" fill-opacity="0.9"/>
<rect x="776.0" y="641.1" width="90.0" height="0.2" fill="#e0e0e0"/>
<rect x="784.0" y="639.8" width="1.4" height="1.2" fill="#cf0a47" fill-opacity="0.5"/>
<rect x="787.0" y="640.0" width="1.5" height="0.6" fill="#aaa"/>
<rect x="806.5" y="639.8" width="1.1" height="1.1" fill="#cf0a47" fill-opacity="0.75"/>
<rect x="828.9" y="639.8" width="1.1" height="1.1" fill="#cf0a47" fill-opacity="0.75"/>
<rect x="836.4" y="639.8" width="1.1" height="1.1" fill="#cf0a47" fill-opacity="0.75"/>
<rect x="843.0" y="639.8" width="1.1" height="1.1" fill="#cf0a47" fill-opacity="0.75"/>
<rect x="754.3" y="642.0" width="15.5" height="0.6" fill="#333" fill-opacity="0.9"/>
<rect x="776.0" y="643.1" width="90.0" height="0.2" fill="#e0e0e0"/>
<rect x="784.0" y="641.8" width="1.4" height="1.2" fill="#cf0a47" fill-opacity="0.5"/>
<rect x="787.0" y="642.0" width="1.5" height="0.6" fill="#aaa"/>
<rect x="806.5" y="641.8" width="1.1" height="1.1" fill="#cf0a47" fill-opacity="0.75"/>
<rect x="843.0" y="641.8" width="1.1" height="1.1" fill="#cf0a47" fill-opacity="0.75"/>
<rect x="849.8" y="641.8" width="1.1" height="1.1" fill="#cf0a47" fill-opacity="0.75"/>
<rect x="754.3" y="644.0" width="14.3" height="0.6" fill="#333" fill-opacity="0.9"/>
<rect x="776.0" y="645.1" width="90.0" height="0.2" fill="#e0e0e0"/>
<rect x="784.0" y="643.8" width="1.4" height="1.2" fill="#cf0a47" fill-opacity="0.5"/>
<rect x="787.0" y="644.0" width="1.5" height="0.6" fill="#aaa"/>
<rect x="828.9" y="643.8" width="1.1" height="1.1" fill="#cf0a47" fill-opacity="0.75"/>
<rect x="864.7" y="643.8" width="1.1" height="1.1" fill="#cf0a47" fill-opacity="0.75"/>
<rect x="754.3" y="646.0" width="14.6" height="0.6" fill="#777" fill-opacity="0.8"/>
<rect x="776.0" y="647.1" width="90.0" height="0.2" fill="#e0e0e0"/>
<rect x="784.0" y="645.8" width="1.4" height="1.2" fill="#cf0a47" fill-opacity="0.9"/>
<rect x="787.0" y="646.0" width="1.5" height="0.6" fill="#aaa"/>
<rect x="799.0" y="645.8" width="1.1" height="1.1" fill="#cf0a47" fill-opacity="0.75"/>
<rect x="836.4" y="645.8" width="1.1" height="1.1" fill="#cf0a47" fill-opacity="0.75"/>
<rect x="754.3" y="648.0" width="22.0" height="0.6" fill="#333" fill-opacity="0.9"/>
<rect x="776.0" y="649.1" width="90.0" height="0.2" fill="#e0e0e0"/>
<rect x="784.0" y="647.8" width="1.4" height="1.2" fill="#cf0a47" fill-opacity="0.5"/>
<rect x="787.0" y="648.0" width="1.5" height="0.6" fill="#aaa"/>
<rect x="821.2" y="647.8" width="1.1" height="1.1" fill="#cf0a47" fill-opacity="0.75"/>
<rect x="836.4" y="647.8" width="1.1" height="1.1" fill="#cf0a47" fill-opacity="0.75"/>
<rect x="864.7" y="647.8" width="1.1" height="1.1" fill="#cf0a47" fill-opacity="0.75"/>
<rect x="754.3" y="650.0" width="18.7" height="0.6" fill="#777" fill-opacity="0.8"/>
<rect x="776.0" y="651.1" width="90.0" height="0.2" fill="#e0e0e0"/>
<rect x="784.0" y="649.8" width="1.4" height="1.2" fill="#cf0a47" fill-opacity="0.5"/>
<rect x="787.0" y="650.0" width="1.5" height="0.6" fill="#aaa"/>
<rect x="806.5" y="649.8" width="1.1" height="1.1" fill="#cf0a47" fill-opacity="0.75"/>
<rect x="843.0" y="649.8" width="1.1" height="1.1" fill="#cf0a47" fill-opacity="0.75"/>
<rect x="849.8" y="649.8" width="1.1" height="1.1" fill="#cf0a47" fill-opacity="0.75"/>
<rect x="754.3" y="652.0" width="11.1" height="0.6" fill="#777" fill-opacity="0.8"/>
<rect x="776.0" y="653.1" width="90.0" height="0.2" fill="#e0e0e0"/>
<rect x="784.0" y="651.8" width="1.4" height="1.2" fill="#cf0a47" fill-opacity="0.5"/>
<rect x="787.0" y="652.0" width="1.5" height="0.6" fill="#aaa"/>
<rect x="828.9" y="651.8" width="1.1" height="1.1" fill="#cf0a47" fill-opacity="0.75"/>
<rect x="857.2" y="651.8" width="1.1" height="1.1" fill="#cf0a47" fill-opacity="0.75"/>
<rect x="754.3" y="654.0" width="9.2" height="0.6" fill="#777" fill-opacity="0.8"/>
<rect x="776.0" y="655.1" width="90.0" height="0.2" fill="#e0e0e0"/>
<rect x="787.0" y="654.0" width="1.5" height="0.6" fill="#aaa"/>
<rect x="828.9" y="653.8" width="1.1" height="1.1" fill="#cf0a47" fill-opacity="0.75"/>
<rect x="857.2" y="653.8" width="1.1" height="1.1" fill="#cf0a47" fill-opacity="0.75"/>
<rect x="864.7" y="653.8" width="1.1" height="1.1" fill="#cf0a47" fill-opacity="0.75"/>
<rect x="754.3" y="656.0" width="12.4" height="0.6" fill="#777" fill-opacity="0.8"/>
<rect x="776.0" y="657.1" width="90.0" height="0.2" fill="#e0e0e0"/>
<rect x="784.0" y="655.8" width="1.4" height="1.2" fill="#cf0a47" fill-opacity="0.9"/>
<rect x="787.0" y="656.0" width="1.5" height="0.6" fill="#aaa"/>
<rect x="843.0" y="655.8" width="1.1" height="1.1" fill="#cf0a47" fill-opacity="0.75"/>
<rect x="857.2" y="655.8" width="1.1" height="1.1" fill="#cf0a47" fill-opacity="0.75"/>
<rect x="864.7" y="655.8" width="1.1" height="1.1" fill="#cf0a47" fill-opacity="0.75"/>
<line x1="796.5" y1="556.5" x2="802.5" y2="551.5" stroke="#cf0a47" stroke-width="0.5" stroke-opacity="0.6"/>
<line x1="804.0" y1="556.5" x2="810.0" y2="551.5" stroke="#cf0a47" stroke-width="0.5" stroke-opacity="0.6"/>
<line x1="811.3" y1="556.5" x2="817.3" y2="551.5" stroke="#cf0a47" stroke-width="0.5" stroke-opacity="0.6"/>
<line x1="818.7" y1="556.5" x2="824.7" y2="551.5" stroke="#cf0a47" stroke-width="0.5" stroke-opacity="0.6"/>
<line x1="826.4" y1="556.5" x2="832.4" y2="551.5" stroke="#cf0a47" stroke-width="0.5" stroke-opacity="0.6"/>
<line x1="833.9" y1="556.5" x2="839.9" y2="551.5" stroke="#cf0a47" stroke-width="0.5" stroke-opacity="0.6"/>
<line x1="840.5" y1="556.5" x2="846.5" y2="551.5" stroke="#cf0a47" stroke-width="0.5" stroke-opacity="0.6"/>
<line x1="847.3" y1="556.5" x2="853.3" y2="551.5" stroke="#cf0a47" stroke-width="0.5" stroke-opacity="0.6"/>
<line x1="854.7" y1="556.5" x2="860.7" y2="551.5" stroke="#cf0a47" stroke-width="0.5" stroke-opacity="0.6"/>
<line x1="862.2" y1="556.5" x2="868.2" y2="551.5" stroke="#cf0a47" stroke-width="0.5" stroke-opacity="0.6"/>
<rect x="742.0" y="561.7" width="8.5" height="0.6" fill="#cf0a47" fill-opacity="0.55"/>
<rect x="744.0" y="562.9" width="6.5" height="0.6" fill="#cf0a47" fill-opacity="0.45"/>
<rect x="742.0" y="569.0" width="8.5" height="0.6" fill="#cf0a47" fill-opacity="0.55"/>
<rect x="744.0" y="570.2" width="6.5" height="0.6" fill="#cf0a47" fill-opacity="0.45"/>
<rect x="742.0" y="577.5" width="8.5" height="0.6" fill="#cf0a47" fill-opacity="0.55"/>
<rect x="744.0" y="578.7" width="6.5" height="0.6" fill="#cf0a47" fill-opacity="0.45"/>
<rect x="742.0" y="583.5" width="8.5" height="0.6" fill="#cf0a47" fill-opacity="0.55"/>
<rect x="744.0" y="584.7" width="6.5" height="0.6" fill="#cf0a47" fill-opacity="0.45"/>
<rect x="742.0" y="588.8" width="8.5" height="0.6" fill="#cf0a47" fill-opacity="0.55"/>
<rect x="744.0" y="590.0" width="6.5" height="0.6" fill="#cf0a47" fill-opacity="0.45"/>
<rect x="742.0" y="600.0" width="8.5" height="0.6" fill="#cf0a47" fill-opacity="0.55"/>
<rect x="744.0" y="601.2" width="6.5" height="0.6" fill="#cf0a47" fill-opacity="0.45"/>
<rect x="742.0" y="619.5" width="8.5" height="0.6" fill="#cf0a47" fill-opacity="0.55"/>
<rect x="744.0" y="620.7" width="6.5" height="0.6" fill="#cf0a47" fill-opacity="0.45"/>
<rect x="742.0" y="628.0" width="8.5" height="0.6" fill="#cf0a47" fill-opacity="0.55"/>
<rect x="744.0" y="629.2" width="6.5" height="0.6" fill="#cf0a47" fill-opacity="0.45"/>
<rect x="742.0" y="637.0" width="8.5" height="0.6" fill="#cf0a47" fill-opacity="0.55"/>
<rect x="744.0" y="638.2" width="6.5" height="0.6" fill="#cf0a47" fill-opacity="0.45"/>
<rect x="742.0" y="646.5" width="8.5" height="0.6" fill="#cf0a47" fill-opacity="0.55"/>
<rect x="744.0" y="647.7" width="6.5" height="0.6" fill="#cf0a47" fill-opacity="0.45"/>
<rect x="722.0" y="633.0" width="5.0" height="0.6" fill="#333"/>
<rect x="722.0" y="636.5" width="4.0" height="1.5" fill="#666"/>
<rect x="728.0" y="636.7" width="6.0" height="1.2" fill="#888"/>
<rect x="722.0" y="641.0" width="16.0" height="0.5" fill="#777"/>
<rect x="722.0" y="643.0" width="2.0" height="2.5" fill="#888"/>
<rect x="727.0" y="642.5" width="0.8" height="3.0" fill="#555"/>
<rect x="730.0" y="643.0" width="8.0" height="2.0" fill="#cf0a47" fill-opacity="0.5"/>
<rect x="722.0" y="649.0" width="16.0" height="0.5" fill="#555"/>
<rect x="722.0" y="650.6" width="16.0" height="0.5" fill="#333"/>
<rect x="722.0" y="653.5" width="16.0" height="0.5" fill="#555"/>
<rect x="15.6" y="1057.8" width="5.5" height="0.5" fill="#777"/>
<rect x="15.6" y="1062.7" width="9.0" height="0.6" fill="#444"/>
<rect x="15.6" y="1064.5" width="7.0" height="0.6" fill="#555"/>
<rect x="33.8" y="1057.8" width="5.5" height="0.5" fill="#777"/>
<rect x="33.8" y="1062.7" width="9.0" height="0.6" fill="#444"/>
<rect x="33.8" y="1064.5" width="7.0" height="0.6" fill="#555"/>
<rect x="50.3" y="1057.8" width="5.5" height="0.5" fill="#777"/>
<rect x="50.3" y="1062.7" width="9.0" height="0.6" fill="#444"/>
<rect x="50.3" y="1064.5" width="7.0" height="0.6" fill="#555"/>
<rect x="67.7" y="1057.8" width="5.5" height="0.5" fill="#777"/>
<rect x="67.7" y="1062.7" width="9.0" height="0.6" fill="#444"/>
<rect x="67.7" y="1064.5" width="7.0" height="0.6" fill="#555"/>
<rect x="96.4" y="1057.8" width="5.5" height="0.5" fill="#777"/>
<rect x="96.4" y="1062.7" width="9.0" height="0.6" fill="#444"/>
<rect x="96.4" y="1064.5" width="7.0" height="0.6" fill="#555"/>
<rect x="119.9" y="1057.8" width="5.5" height="0.5" fill="#777"/>
<rect x="119.9" y="1062.7" width="9.0" height="0.6" fill="#444"/>
<rect x="119.9" y="1064.5" width="7.0" height="0.6" fill="#555"/>
<rect x="143.4" y="1057.8" width="5.5" height="0.5" fill="#777"/>
<rect x="143.4" y="1062.7" width="9.0" height="0.6" fill="#444"/>
<rect x="143.4" y="1064.5" width="7.0" height="0.6" fill="#555"/>
<rect x="33.8" y="1059.0" width="40.0" height="0.3" fill="#bbb"/>
<rect x="96.4" y="1059.0" width="40.0" height="0.3" fill="#bbb"/>
<rect x="14.0" y="1071.0" width="148.0" height="0.4" fill="#cf0a47" fill-opacity="0.55"/>
<rect x="15.6" y="1074.4" width="9.7" height="0.6" fill="#666"/>
<rect x="33.8" y="1074.4" width="10.7" height="0.6" fill="#666"/>
<rect x="50.3" y="1074.4" width="10.6" height="0.6" fill="#666"/>
<rect x="67.7" y="1074.4" width="8.3" height="0.6" fill="#222"/>
<rect x="96.4" y="1074.4" width="9.2" height="0.6" fill="#666"/>
<rect x="119.9" y="1074.4" width="6.6" height="0.6" fill="#666"/>
<rect x="143.4" y="1074.4" width="7.2" height="0.6" fill="#666"/>
<rect x="14.0" y="1077.0" width="148.0" height="0.3" fill="#cf0a47" fill-opacity="0.45"/>
<rect x="15.6" y="1081.0" width="8.9" height="0.6" fill="#666"/>
<rect x="33.8" y="1081.0" width="7.1" height="0.6" fill="#222"/>
<rect x="50.3" y="1081.0" width="10.6" height="0.6" fill="#222"/>
<rect x="67.7" y="1081.0" width="6.8" height="0.6" fill="#666"/>
<rect x="96.4" y="1081.0" width="6.7" height="0.6" fill="#666"/>
<rect x="119.9" y="1081.0" width="6.6" height="0.6" fill="#666"/>
<rect x="143.4" y="1081.0" width="10.4" height="0.6" fill="#222"/>
<rect x="14.0" y="1083.6" width="148.0" height="0.3" fill="#cf0a47" fill-opacity="0.45"/>
<rect x="15.6" y="1086.3" width="7.1" height="0.6" fill="#222"/>
<rect x="33.8" y="1086.3" width="10.4" height="0.6" fill="#666"/>
<rect x="50.3" y="1086.3" width="10.8" height="0.6" fill="#222"/>
<rect x="67.7" y="1086.3" width="9.4" height="0.6" fill="#666"/>
<rect x="96.4" y="1086.3" width="10.7" height="0.6" fill="#222"/>
<rect x="119.9" y="1086.3" width="10.8" height="0.6" fill="#666"/>
<rect x="143.4" y="1086.3" width="7.5" height="0.6" fill="#666"/>
<rect x="14.0" y="1088.9" width="148.0" height="0.3" fill="#cf0a47" fill-opacity="0.45"/>
<rect x="15.6" y="1091.3" width="6.8" height="0.6" fill="#666"/>
<rect x="33.8" y="1091.3" width="6.3" height="0.6" fill="#222"/>
<rect x="50.3" y="1091.3" width="9.0" height="0.6" fill="#222"/>
<rect x="67.7" y="1091.3" width="9.4" height="0.6" fill="#222"/>
<rect x="96.4" y="1091.3" width="7.5" height="0.6" fill="#222"/>
<rect x="119.9" y="1091.3" width="8.4" height="0.6" fill="#666"/>
<rect x="143.4" y="1091.3" width="8.4" height="0.6" fill="#222"/>
<rect x="14.0" y="1093.9" width="148.0" height="0.3" fill="#cf0a47" fill-opacity="0.45"/>
<rect x="15.6" y="1096.7" width="6.3" height="0.6" fill="#666"/>
<rect x="33.8" y="1096.7" width="6.1" height="0.6" fill="#666"/>
<rect x="50.3" y="1096.7" width="10.2" height="0.6" fill="#666"/>
<rect x="67.7" y="1096.7" width="9.9" height="0.6" fill="#222"/>
<rect x="96.4" y="1096.7" width="8.9" height="0.6" fill="#666"/>
<rect x="119.9" y="1096.7" width="6.2" height="0.6" fill="#222"/>
<rect x="143.4" y="1096.7" width="10.8" height="0.6" fill="#222"/>
<rect x="14.0" y="1099.3" width="148.0" height="0.3" fill="#cf0a47" fill-opacity="0.45"/>
<rect x="15.6" y="1102.3" width="9.8" height="0.6" fill="#222"/>
<rect x="33.8" y="1102.3" width="10.7" height="0.6" fill="#666"/>
<rect x="50.3" y="1102.3" width="7.8" height="0.6" fill="#222"/>
<rect x="67.7" y="1102.3" width="9.9" height="0.6" fill="#666"/>
<rect x="96.4" y="1102.3" width="9.7" height="0.6" fill="#222"/>
<rect x="119.9" y="1102.3" width="10.3" height="0.6" fill="#666"/>
<rect x="143.4" y="1102.3" width="10.7" height="0.6" fill="#222"/>
<rect x="14.0" y="1104.9" width="148.0" height="0.3" fill="#cf0a47" fill-opacity="0.45"/>
<rect x="15.6" y="1107.5" width="7.7" height="0.6" fill="#222"/>
<rect x="33.8" y="1107.5" width="10.6" height="0.6" fill="#666"/>
<rect x="50.3" y="1107.5" width="10.6" height="0.6" fill="#222"/>
<rect x="67.7" y="1107.5" width="7.6" height="0.6" fill="#666"/>
<rect x="96.4" y="1107.5" width="6.9" height="0.6" fill="#222"/>
<rect x="119.9" y="1107.5" width="6.7" height="0.6" fill="#222"/>
<rect x="143.4" y="1107.5" width="11.0" height="0.6" fill="#666"/>
<rect x="14.0" y="1110.1" width="148.0" height="0.3" fill="#cf0a47" fill-opacity="0.45"/>
<rect x="15.6" y="1112.7" width="6.2" height="0.6" fill="#222"/>
<rect x="33.8" y="1112.7" width="8.7" height="0.6" fill="#666"/>
<rect x="50.3" y="1112.7" width="7.2" height="0.6" fill="#666"/>
<rect x="67.7" y="1112.7" width="10.1" height="0.6" fill="#666"/>
<rect x="96.4" y="1112.7" width="8.1" height="0.6" fill="#666"/>
<rect x="119.9" y="1112.7" width="10.6" height="0.6" fill="#222"/>
<rect x="143.4" y="1112.7" width="8.5" height="0.6" fill="#222"/>
<rect x="14.0" y="1115.3" width="148.0" height="0.3" fill="#cf0a47" fill-opacity="0.45"/>
<rect x="15.6" y="1117.9" width="6.7" height="0.6" fill="#666"/>
<rect x="33.8" y="1117.9" width="10.7" height="0.6" fill="#666"/>
<rect x="50.3" y="1117.9" width="9.9" height="0.6" fill="#666"/>
<rect x="67.7" y="1117.9" width="8.2" height="0.6" fill="#222"/>
<rect x="96.4" y="1117.9" width="10.2" height="0.6" fill="#222"/>
<rect x="119.9" y="1117.9" width="8.3" height="0.6" fill="#222"/>
<rect x="143.4" y="1117.9" width="10.3" height="0.6" fill="#666"/>
<rect x="14.0" y="1120.5" width="148.0" height="0.3" fill="#cf0a47" fill-opacity="0.45"/>
<rect x="15.6" y="1123.1" width="8.3" height="0.6" fill="#666"/>
<rect x="33.8" y="1123.1" width="9.6" height="0.6" fill="#666"/>
<rect x="50.3" y="1123.1" width="7.5" height="0.6" fill="#666"/>
<rect x="67.7" y="1123.1" width="6.7" height="0.6" fill="#666"/>
<rect x="96.4" y="1123.1" width="10.9" height="0.6" fill="#666"/>
<rect x="119.9" y="1123.1" width="9.1" height="0.6" fill="#666"/>
<rect x="143.4" y="1123.1" width="7.7" height="0.6" fill="#666"/>
<rect x="14.0" y="1125.7" width="148.0" height="0.3" fill="#cf0a47" fill-opacity="0.45"/>
<rect x="67.7" y="1128.3" width="6.4" height="0.6" fill="#555"/>
<rect x="96.4" y="1128.3" width="7.4" height="0.6" fill="#555"/>
<rect x="119.9" y="1128.3" width="9.9" height="0.6" fill="#555"/>
<rect x="143.4" y="1128.3" width="10.3" height="0.6" fill="#555"/>
<rect x="64.0" y="1130.9" width="98.0" height="0.3" fill="#cf0a47" fill-opacity="0.45"/>
<rect x="67.7" y="1133.6" width="7.8" height="0.6" fill="#555"/>
<rect x="96.4" y="1133.6" width="9.9" height="0.6" fill="#555"/>
<rect x="119.9" y="1133.6" width="9.9" height="0.6" fill="#555"/>
<rect x="143.4" y="1133.6" width="9.5" height="0.6" fill="#555"/>
<rect x="64.0" y="1136.2" width="98.0" height="0.3" fill="#cf0a47" fill-opacity="0.45"/>
<rect x="67.7" y="1138.8" width="9.3" height="0.6" fill="#555"/>
<rect x="96.4" y="1138.8" width="9.8" height="0.6" fill="#555"/>
<rect x="119.9" y="1138.8" width="7.8" height="0.6" fill="#555"/>
<rect x="143.4" y="1138.8" width="9.5" height="0.6" fill="#555"/>
<rect x="64.0" y="1141.4" width="98.0" height="0.3" fill="#cf0a47" fill-opacity="0.45"/>
<rect x="67.7" y="1144.3" width="7.4" height="0.6" fill="#555"/>
<rect x="96.4" y="1144.3" width="8.4" height="0.6" fill="#555"/>
<rect x="119.9" y="1144.3" width="9.8" height="0.6" fill="#555"/>
<rect x="143.4" y="1144.3" width="9.5" height="0.6" fill="#555"/>
<rect x="64.0" y="1146.9" width="98.0" height="0.3" fill="#cf0a47" fill-opacity="0.45"/>
<rect x="96.4" y="1149.2" width="8.0" height="0.8" fill="#222"/>
<rect x="12.5" y="1075.0" width="0.3" height="50.0" fill="#cf0a47" fill-opacity="0.3"/>
<rect x="13.3" y="1075.0" width="0.3" height="50.0" fill="#cf0a47" fill-opacity="0.3"/>
<polyline points="30,1080 30,1096 64,1098 64,1127 96,1129 96,1139 120,1139" stroke="#cf0a47" stroke-width="0.3" fill="none" stroke-opacity="0.5"/>
<rect x="12.0" y="1129.5" width="30.0" height="0.5" fill="#666"/>
<rect x="12.0" y="1131.0" width="30.0" height="0.5" fill="#666"/>
<rect x="12.0" y="1132.5" width="28.0" height="0.5" fill="#666"/>
<rect x="12.0" y="1135.0" width="5.0" height="0.5" fill="#666"/>
<rect x="12.0" y="1139.0" width="6.0" height="0.4" fill="#cf0a47" fill-opacity="0.6"/>
<rect x="21.0" y="1138.5" width="6.0" height="0.5" fill="#999"/>
<rect x="12.0" y="1141.0" width="6.0" height="0.4" fill="#cf0a47" fill-opacity="0.6"/>
<rect x="21.0" y="1140.5" width="6.0" height="0.5" fill="#999"/>
<rect x="12.0" y="1144.0" width="6.0" height="0.4" fill="#cf0a47" fill-opacity="0.6"/>
<rect x="21.0" y="1143.5" width="6.0" height="0.5" fill="#999"/>
<rect x="12.0" y="1147.0" width="29.0" height="0.4" fill="#888"/>
<rect x="12.0" y="1148.5" width="29.0" height="0.4" fill="#888"/>
<rect x="12.0" y="1150.5" width="29.0" height="0.4" fill="#888"/>
<rect x="226.0" y="1059.4" width="6.0" height="0.6" fill="#333"/>
<rect x="264.0" y="1059.4" width="6.0" height="0.6" fill="#333"/>
<rect x="314.7" y="1059.4" width="6.0" height="0.6" fill="#333"/>
<rect x="359.0" y="1059.4" width="6.0" height="0.6" fill="#333"/>
<rect x="226.0" y="1077.0" width="8.7" height="0.7" fill="#444"/>
<rect x="226.0" y="1104.9" width="10.0" height="0.7" fill="#444"/>
<rect x="226.0" y="1132.7" width="11.5" height="0.7" fill="#444"/>
<rect x="249.0" y="1128.0" width="5.0" height="0.6" fill="#666"/>
<rect x="248.0" y="1135.2" width="6.5" height="0.6" fill="#666"/>
<rect x="264.2" y="1071.0" width="13.6" height="0.6" fill="#222"/>
<rect x="264.2" y="1075.8" width="11.4" height="0.6" fill="#555"/>
<rect x="264.2" y="1080.7" width="8.0" height="0.6" fill="#555"/>
<rect x="264.2" y="1085.5" width="11.3" height="0.6" fill="#222"/>
<rect x="264.2" y="1090.4" width="10.6" height="0.6" fill="#222"/>
<rect x="264.2" y="1095.2" width="9.9" height="0.6" fill="#222"/>
<rect x="264.2" y="1100.1" width="13.1" height="0.6" fill="#555"/>
<rect x="264.2" y="1105.0" width="11.8" height="0.6" fill="#555"/>
<rect x="264.2" y="1109.8" width="9.4" height="0.6" fill="#555"/>
<rect x="264.2" y="1114.7" width="13.6" height="0.6" fill="#555"/>
<rect x="264.2" y="1119.5" width="13.6" height="0.6" fill="#555"/>
<rect x="264.2" y="1124.3" width="13.9" height="0.6" fill="#555"/>
<rect x="264.2" y="1129.2" width="8.7" height="0.6" fill="#222"/>
<rect x="264.2" y="1134.0" width="13.6" height="0.6" fill="#555"/>
<rect x="264.2" y="1138.9" width="8.7" height="0.6" fill="#555"/>
<rect x="314.6" y="1066.3" width="11.2" height="0.6" fill="#555"/>
<rect x="314.6" y="1070.0" width="12.8" height="0.6" fill="#555"/>
<rect x="314.6" y="1073.7" width="9.0" height="0.6" fill="#222"/>
<rect x="314.6" y="1077.4" width="9.8" height="0.6" fill="#222"/>
<rect x="314.6" y="1081.1" width="12.5" height="0.6" fill="#555"/>
<rect x="314.6" y="1084.8" width="11.2" height="0.6" fill="#222"/>
<rect x="314.6" y="1088.5" width="12.0" height="0.6" fill="#222"/>
<rect x="314.6" y="1092.2" width="8.1" height="0.6" fill="#555"/>
<rect x="314.6" y="1095.9" width="11.0" height="0.6" fill="#555"/>
<rect x="314.6" y="1099.6" width="10.9" height="0.6" fill="#555"/>
<rect x="314.6" y="1103.3" width="12.4" height="0.6" fill="#555"/>
<rect x="314.6" y="1107.0" width="8.6" height="0.6" fill="#222"/>
<rect x="314.6" y="1110.7" width="9.6" height="0.6" fill="#555"/>
<rect x="314.6" y="1114.4" width="10.4" height="0.6" fill="#555"/>
<rect x="314.6" y="1118.1" width="9.0" height="0.6" fill="#222"/>
<rect x="314.6" y="1121.8" width="11.5" height="0.6" fill="#555"/>
<rect x="314.6" y="1125.5" width="11.9" height="0.6" fill="#555"/>
<rect x="314.6" y="1129.2" width="9.7" height="0.6" fill="#222"/>
<rect x="314.6" y="1132.9" width="11.1" height="0.6" fill="#555"/>
<rect x="314.6" y="1136.6" width="9.9" height="0.6" fill="#555"/>
<rect x="314.6" y="1140.3" width="8.6" height="0.6" fill="#222"/>
<rect x="314.6" y="1144.0" width="8.3" height="0.6" fill="#555"/>
<rect x="359.0" y="1064.3" width="12.5" height="0.6" fill="#555"/>
<rect x="359.0" y="1069.3" width="13.9" height="0.6" fill="#555"/>
<rect x="359.0" y="1074.3" width="13.9" height="0.6" fill="#222"/>
<rect x="359.0" y="1079.3" width="12.0" height="0.6" fill="#222"/>
<rect x="359.0" y="1084.3" width="10.7" height="0.6" fill="#222"/>
<rect x="359.0" y="1089.3" width="12.8" height="0.6" fill="#555"/>
<rect x="359.0" y="1094.3" width="10.8" height="0.6" fill="#222"/>
<rect x="359.0" y="1099.3" width="10.5" height="0.6" fill="#555"/>
<rect x="359.0" y="1104.3" width="12.5" height="0.6" fill="#555"/>
<rect x="359.0" y="1109.3" width="10.9" height="0.6" fill="#222"/>
<rect x="359.0" y="1114.3" width="9.0" height="0.6" fill="#555"/>
<rect x="359.0" y="1119.3" width="8.7" height="0.6" fill="#555"/>
<rect x="359.0" y="1124.3" width="10.2" height="0.6" fill="#555"/>
<rect x="359.0" y="1129.3" width="10.7" height="0.6" fill="#222"/>
<rect x="359.0" y="1134.3" width="9.5" height="0.6" fill="#555"/>
<rect x="359.0" y="1139.3" width="13.3" height="0.6" fill="#555"/>
<rect x="359.0" y="1144.3" width="9.6" height="0.6" fill="#555"/>
<path d="M236.0,1077.0 C249.8,1077.0 249.8,1071.0 263.5,1071.0" stroke="#cf0a47" stroke-width="0.3" stroke-opacity="0.7" fill="none"/>
<path d="M236.0,1077.0 C249.8,1077.0 249.8,1075.8 263.5,1075.8" stroke="#cf0a47" stroke-width="0.3" stroke-opacity="0.7" fill="none"/>
<path d="M236.0,1077.0 C249.8,1077.0 249.8,1080.7 263.5,1080.7" stroke="#cf0a47" stroke-width="0.3" stroke-opacity="0.7" fill="none"/>
<path d="M236.0,1077.0 C249.8,1077.0 249.8,1085.5 263.5,1085.5" stroke="#cf0a47" stroke-width="0.3" stroke-opacity="0.7" fill="none"/>
<path d="M236.0,1077.0 C249.8,1077.0 249.8,1090.4 263.5,1090.4" stroke="#cf0a47" stroke-width="0.3" stroke-opacity="0.7" fill="none"/>
<path d="M236.0,1077.0 C249.8,1077.0 249.8,1095.2 263.5,1095.2" stroke="#cf0a47" stroke-width="0.3" stroke-opacity="0.7" fill="none"/>
<path d="M236.0,1077.0 C249.8,1077.0 249.8,1100.1 263.5,1100.1" stroke="#cf0a47" stroke-width="0.3" stroke-opacity="0.7" fill="none"/>
<path d="M236.0,1077.0 C249.8,1077.0 249.8,1105.0 263.5,1105.0" stroke="#cf0a47" stroke-width="0.3" stroke-opacity="0.7" fill="none"/>
<path d="M236.0,1077.0 C249.8,1077.0 249.8,1109.8 263.5,1109.8" stroke="#cf0a47" stroke-width="0.3" stroke-opacity="0.7" fill="none"/>
<path d="M238.0,1104.9 C250.8,1104.9 250.8,1109.8 263.5,1109.8" stroke="#cf0a47" stroke-width="0.3" stroke-opacity="0.7" fill="none"/>
<path d="M238.0,1104.9 C250.8,1104.9 250.8,1114.7 263.5,1114.7" stroke="#cf0a47" stroke-width="0.3" stroke-opacity="0.7" fill="none"/>
<path d="M238.0,1104.9 C250.8,1104.9 250.8,1119.5 263.5,1119.5" stroke="#cf0a47" stroke-width="0.3" stroke-opacity="0.7" fill="none"/>
<path d="M238.0,1104.9 C250.8,1104.9 250.8,1124.3 263.5,1124.3" stroke="#cf0a47" stroke-width="0.3" stroke-opacity="0.7" fill="none"/>
<path d="M238.0,1104.9 C250.8,1104.9 250.8,1129.2 263.5,1129.2" stroke="#cf0a47" stroke-width="0.3" stroke-opacity="0.7" fill="none"/>
<path d="M240.0,1132.7 C251.8,1132.7 251.8,1129.2 263.5,1129.2" stroke="#cf0a47" stroke-width="0.3" stroke-opacity="0.7" fill="none"/>
<path d="M240.0,1132.7 C251.8,1132.7 251.8,1134.0 263.5,1134.0" stroke="#cf0a47" stroke-width="0.3" stroke-opacity="0.7" fill="none"/>
<path d="M240.0,1132.7 C251.8,1132.7 251.8,1138.9 263.5,1138.9" stroke="#cf0a47" stroke-width="0.3" stroke-opacity="0.7" fill="none"/>
<path d="M280.0,1071.3 C297.0,1071.3 297.0,1122.1 314.0,1122.1" stroke="#cf0a47" stroke-width="0.3" stroke-opacity="0.45" fill="none"/>
<path d="M280.0,1076.1 C297.0,1076.1 297.0,1122.1 314.0,1122.1" stroke="#cf0a47" stroke-width="0.3" stroke-opacity="0.45" fill="none"/>
<path d="M280.0,1081.0 C297.0,1081.0 297.0,1081.4 314.0,1081.4" stroke="#cf0a47" stroke-width="0.3" stroke-opacity="0.45" fill="none"/>
<path d="M280.0,1085.8 C297.0,1085.8 297.0,1111.0 314.0,1111.0" stroke="#cf0a47" stroke-width="0.3" stroke-opacity="0.45" fill="none"/>
<path d="M280.0,1090.7 C297.0,1090.7 297.0,1122.1 314.0,1122.1" stroke="#cf0a47" stroke-width="0.3" stroke-opacity="0.45" fill="none"/>
<path d="M280.0,1095.5 C297.0,1095.5 297.0,1099.9 314.0,1099.9" stroke="#cf0a47" stroke-width="0.3" stroke-opacity="0.45" fill="none"/>
<path d="M280.0,1100.4 C297.0,1100.4 297.0,1140.6 314.0,1140.6" stroke="#cf0a47" stroke-width="0.3" stroke-opacity="0.45" fill="none"/>
<path d="M280.0,1105.2 C297.0,1105.2 297.0,1118.4 314.0,1118.4" stroke="#cf0a47" stroke-width="0.3" stroke-opacity="0.45" fill="none"/>
<path d="M280.0,1110.1 C297.0,1110.1 297.0,1103.6 314.0,1103.6" stroke="#cf0a47" stroke-width="0.3" stroke-opacity="0.45" fill="none"/>
<path d="M280.0,1115.0 C297.0,1115.0 297.0,1107.3 314.0,1107.3" stroke="#cf0a47" stroke-width="0.3" stroke-opacity="0.45" fill="none"/>
<path d="M280.0,1119.8 C297.0,1119.8 297.0,1144.3 314.0,1144.3" stroke="#cf0a47" stroke-width="0.3" stroke-opacity="0.45" fill="none"/>
<path d="M280.0,1124.6 C297.0,1124.6 297.0,1085.1 314.0,1085.1" stroke="#cf0a47" stroke-width="0.3" stroke-opacity="0.45" fill="none"/>
<path d="M280.0,1129.5 C297.0,1129.5 297.0,1136.9 314.0,1136.9" stroke="#cf0a47" stroke-width="0.3" stroke-opacity="0.45" fill="none"/>
<path d="M280.0,1134.3 C297.0,1134.3 297.0,1111.0 314.0,1111.0" stroke="#cf0a47" stroke-width="0.3" stroke-opacity="0.45" fill="none"/>
<path d="M280.0,1139.2 C297.0,1139.2 297.0,1136.9 314.0,1136.9" stroke="#cf0a47" stroke-width="0.3" stroke-opacity="0.45" fill="none"/>
<path d="M328.6,1066.6 C343.6,1066.6 343.6,1104.6 358.5,1104.6" stroke="#cf0a47" stroke-width="0.3" stroke-opacity="0.45" fill="none"/>
<path d="M328.6,1070.3 C343.6,1070.3 343.6,1114.6 358.5,1114.6" stroke="#cf0a47" stroke-width="0.3" stroke-opacity="0.45" fill="none"/>
<path d="M328.6,1074.0 C343.6,1074.0 343.6,1124.6 358.5,1124.6" stroke="#cf0a47" stroke-width="0.3" stroke-opacity="0.45" fill="none"/>
<path d="M328.6,1077.7 C343.6,1077.7 343.6,1139.6 358.5,1139.6" stroke="#cf0a47" stroke-width="0.3" stroke-opacity="0.45" fill="none"/>
<path d="M328.6,1081.4 C343.6,1081.4 343.6,1089.6 358.5,1089.6" stroke="#cf0a47" stroke-width="0.3" stroke-opacity="0.45" fill="none"/>
<path d="M328.6,1085.1 C343.6,1085.1 343.6,1109.6 358.5,1109.6" stroke="#cf0a47" stroke-width="0.3" stroke-opacity="0.45" fill="none"/>
<path d="M328.6,1088.8 C343.6,1088.8 343.6,1064.6 358.5,1064.6" stroke="#cf0a47" stroke-width="0.3" stroke-opacity="0.45" fill="none"/>
<path d="M328.6,1092.5 C343.6,1092.5 343.6,1134.6 358.5,1134.6" stroke="#cf0a47" stroke-width="0.3" stroke-opacity="0.45" fill="none"/>
<path d="M328.6,1096.2 C343.6,1096.2 343.6,1069.6 358.5,1069.6" stroke="#cf0a47" stroke-width="0.3" stroke-opacity="0.45" fill="none"/>
<path d="M328.6,1099.9 C343.6,1099.9 343.6,1089.6 358.5,1089.6" stroke="#cf0a47" stroke-width="0.3" stroke-opacity="0.45" fill="none"/>
<path d="M328.6,1103.6 C343.6,1103.6 343.6,1064.6 358.5,1064.6" stroke="#cf0a47" stroke-width="0.3" stroke-opacity="0.45" fill="none"/>
<path d="M328.6,1107.3 C343.6,1107.3 343.6,1079.6 358.5,1079.6" stroke="#cf0a47" stroke-width="0.3" stroke-opacity="0.45" fill="none"/>
<path d="M328.6,1111.0 C343.6,1111.0 343.6,1119.6 358.5,1119.6" stroke="#cf0a47" stroke-width="0.3" stroke-opacity="0.45" fill="none"/>
<path d="M328.6,1114.7 C343.6,1114.7 343.6,1119.6 358.5,1119.6" stroke="#cf0a47" stroke-width="0.3" stroke-opacity="0.45" fill="none"/>
<path d="M328.6,1118.4 C343.6,1118.4 343.6,1139.6 358.5,1139.6" stroke="#cf0a47" stroke-width="0.3" stroke-opacity="0.45" fill="none"/>
<path d="M328.6,1122.1 C343.6,1122.1 343.6,1069.6 358.5,1069.6" stroke="#cf0a47" stroke-width="0.3" stroke-opacity="0.45" fill="none"/>
<path d="M328.6,1125.8 C343.6,1125.8 343.6,1094.6 358.5,1094.6" stroke="#cf0a47" stroke-width="0.3" stroke-opacity="0.45" fill="none"/>
<path d="M328.6,1129.5 C343.6,1129.5 343.6,1084.6 358.5,1084.6" stroke="#cf0a47" stroke-width="0.3" stroke-opacity="0.45" fill="none"/>
<path d="M328.6,1133.2 C343.6,1133.2 343.6,1104.6 358.5,1104.6" stroke="#cf0a47" stroke-width="0.3" stroke-opacity="0.45" fill="none"/>
<path d="M328.6,1136.9 C343.6,1136.9 343.6,1064.6 358.5,1064.6" stroke="#cf0a47" stroke-width="0.3" stroke-opacity="0.45" fill="none"/>
<path d="M328.6,1140.6 C343.6,1140.6 343.6,1129.6 358.5,1129.6" stroke="#cf0a47" stroke-width="0.3" stroke-opacity="0.45" fill="none"/>
<path d="M328.6,1144.3 C343.6,1144.3 343.6,1144.6 358.5,1144.6" stroke="#cf0a47" stroke-width="0.3" stroke-opacity="0.45" fill="none"/>
<rect x="226.0" y="1141.5" width="5.0" height="0.6" fill="#444"/>
<rect x="226.0" y="1146.0" width="24.0" height="0.4" fill="#777"/>
<rect x="226.0" y="1147.5" width="24.0" height="0.4" fill="#777"/>
<rect x="226.0" y="1149.5" width="24.0" height="0.4" fill="#777"/>
<rect x="511.0" y="1047.5" width="238.5" height="107.5" fill="#fff"/>
<rect x="511.0" y="1047.5" width="238.5" height="1.5" fill="#e6e6e6"/>
<rect x="511.0" y="1047.5" width="5.0" height="107.5" fill="#eef2ee"/>
<rect x="511.0" y="1049.0" width="238.5" height="6.0" fill="#f2f2f2"/>
<rect x="516.0" y="1051.0" width="9.0" height="1.0" fill="#e86030"/>
<rect x="514.5" y="1049.0" width="0.3" height="106.0" fill="#d8d8d8"/>
<rect x="552.5" y="1051.0" width="9.0" height="1.0" fill="#e86030"/>
<rect x="551.0" y="1049.0" width="0.3" height="106.0" fill="#d8d8d8"/>
<rect x="583.5" y="1051.0" width="9.0" height="1.0" fill="#e86030"/>
<rect x="582.0" y="1049.0" width="0.3" height="106.0" fill="#d8d8d8"/>
<rect x="634.5" y="1051.0" width="9.0" height="1.0" fill="#e86030"/>
<rect x="633.0" y="1049.0" width="0.3" height="106.0" fill="#d8d8d8"/>
<rect x="670.5" y="1051.0" width="22.0" height="1.0" fill="#e86030"/>
<rect x="670.5" y="1053.0" width="18.0" height="0.7" fill="#e86030"/>
<rect x="669.0" y="1049.0" width="0.3" height="106.0" fill="#d8d8d8"/>
<rect x="698.5" y="1051.0" width="22.0" height="1.0" fill="#e86030"/>
<rect x="698.5" y="1053.0" width="18.0" height="0.7" fill="#e86030"/>
<rect x="697.0" y="1049.0" width="0.3" height="106.0" fill="#d8d8d8"/>
<rect x="726.5" y="1051.0" width="22.0" height="1.0" fill="#e86030"/>
<rect x="726.5" y="1053.0" width="18.0" height="0.7" fill="#e86030"/>
<rect x="725.0" y="1049.0" width="0.3" height="106.0" fill="#d8d8d8"/>
<rect x="511.0" y="1060.6" width="238.5" height="0.2" fill="#d8d8d8"/>
<rect x="512.0" y="1057.5" width="1.3" height="0.7" fill="#999"/>
<rect x="516.0" y="1057.2" width="17.2" height="0.6" fill="#666"/>
<rect x="516.0" y="1058.8" width="19.8" height="0.6" fill="#888"/>
<rect x="553.0" y="1057.0" width="20.6" height="0.6" fill="#ee7048"/>
<rect x="553.0" y="1058.8" width="22.0" height="0.6" fill="#ee7048"/>
<rect x="584.0" y="1057.2" width="22.3" height="0.6" fill="#666"/>
<rect x="635.0" y="1057.2" width="15.8" height="0.6" fill="#555"/>
<rect x="671.0" y="1057.2" width="3.0" height="0.6" fill="#666"/>
<rect x="699.0" y="1057.2" width="9.1" height="0.6" fill="#666"/>
<rect x="727.0" y="1057.2" width="3.3" height="0.6" fill="#666"/>
<rect x="511.0" y="1065.8" width="238.5" height="0.2" fill="#d8d8d8"/>
<rect x="512.0" y="1062.7" width="1.3" height="0.7" fill="#999"/>
<rect x="516.0" y="1062.4" width="18.9" height="0.6" fill="#666"/>
<rect x="516.0" y="1064.0" width="11.4" height="0.6" fill="#888"/>
<rect x="553.0" y="1062.2" width="23.4" height="0.6" fill="#ee7048"/>
<rect x="553.0" y="1064.0" width="25.7" height="0.6" fill="#ee7048"/>
<rect x="584.0" y="1062.4" width="17.5" height="0.6" fill="#666"/>
<rect x="635.0" y="1062.4" width="17.9" height="0.6" fill="#555"/>
<rect x="671.0" y="1062.4" width="3.0" height="0.6" fill="#666"/>
<rect x="699.0" y="1062.4" width="10.5" height="0.6" fill="#666"/>
<rect x="727.0" y="1062.4" width="11.5" height="0.6" fill="#666"/>
<rect x="511.0" y="1070.9" width="238.5" height="0.2" fill="#d8d8d8"/>
<rect x="512.0" y="1067.8" width="1.3" height="0.7" fill="#999"/>
<rect x="516.0" y="1067.5" width="21.2" height="0.6" fill="#666"/>
<rect x="516.0" y="1069.1" width="24.6" height="0.6" fill="#888"/>
<rect x="553.0" y="1067.3" width="20.4" height="0.6" fill="#ee7048"/>
<rect x="553.0" y="1069.1" width="26.2" height="0.6" fill="#ee7048"/>
<rect x="584.0" y="1067.5" width="20.8" height="0.6" fill="#666"/>
<rect x="635.0" y="1067.5" width="16.9" height="0.6" fill="#555"/>
<rect x="671.0" y="1067.5" width="3.0" height="0.6" fill="#666"/>
<rect x="699.0" y="1067.5" width="4.4" height="0.6" fill="#666"/>
<rect x="727.0" y="1067.5" width="5.8" height="0.6" fill="#666"/>
<rect x="511.0" y="1076.0" width="238.5" height="0.2" fill="#d8d8d8"/>
<rect x="512.0" y="1073.0" width="1.3" height="0.7" fill="#999"/>
<rect x="516.0" y="1072.7" width="25.1" height="0.6" fill="#666"/>
<rect x="516.0" y="1074.2" width="18.7" height="0.6" fill="#888"/>
<rect x="553.0" y="1072.5" width="25.1" height="0.6" fill="#ee7048"/>
<rect x="553.0" y="1074.2" width="19.8" height="0.6" fill="#ee7048"/>
<rect x="584.0" y="1072.7" width="26.0" height="0.6" fill="#666"/>
<rect x="635.0" y="1072.7" width="15.8" height="0.6" fill="#555"/>
<rect x="671.0" y="1072.7" width="3.0" height="0.6" fill="#666"/>
<rect x="699.0" y="1072.7" width="3.7" height="0.6" fill="#666"/>
<rect x="727.0" y="1072.7" width="4.9" height="0.6" fill="#666"/>
<rect x="511.0" y="1081.2" width="238.5" height="0.2" fill="#d8d8d8"/>
<rect x="512.0" y="1078.1" width="1.3" height="0.7" fill="#999"/>
<rect x="516.0" y="1077.8" width="22.9" height="0.6" fill="#666"/>
<rect x="516.0" y="1079.4" width="14.7" height="0.6" fill="#888"/>
<rect x="553.0" y="1077.6" width="24.7" height="0.6" fill="#ee7048"/>
<rect x="553.0" y="1079.4" width="20.9" height="0.6" fill="#ee7048"/>
<rect x="584.0" y="1077.8" width="21.0" height="0.6" fill="#666"/>
<rect x="635.0" y="1077.8" width="25.3" height="0.6" fill="#555"/>
<rect x="671.0" y="1077.8" width="3.0" height="0.6" fill="#666"/>
<rect x="699.0" y="1077.8" width="11.4" height="0.6" fill="#666"/>
<rect x="727.0" y="1077.8" width="5.2" height="0.6" fill="#666"/>
<rect x="511.0" y="1086.3" width="238.5" height="0.2" fill="#d8d8d8"/>
<rect x="512.0" y="1083.2" width="1.3" height="0.7" fill="#999"/>
<rect x="516.0" y="1083.0" width="21.2" height="0.6" fill="#666"/>
<rect x="553.0" y="1082.8" width="27.0" height="0.6" fill="#ee7048"/>
<rect x="553.0" y="1084.5" width="24.5" height="0.6" fill="#ee7048"/>
<rect x="584.0" y="1083.0" width="20.8" height="0.6" fill="#666"/>
<rect x="635.0" y="1083.0" width="27.7" height="0.6" fill="#555"/>
<rect x="671.0" y="1083.0" width="3.0" height="0.6" fill="#666"/>
<rect x="699.0" y="1083.0" width="4.4" height="0.6" fill="#666"/>
<rect x="727.0" y="1083.0" width="6.8" height="0.6" fill="#666"/>
<rect x="511.0" y="1091.5" width="238.5" height="0.2" fill="#d8d8d8"/>
<rect x="512.0" y="1088.4" width="1.3" height="0.7" fill="#999"/>
<rect x="516.0" y="1088.1" width="24.1" height="0.6" fill="#666"/>
<rect x="516.0" y="1089.7" width="17.3" height="0.6" fill="#888"/>
<rect x="553.0" y="1087.9" width="20.3" height="0.6" fill="#ee7048"/>
<rect x="553.0" y="1089.7" width="23.7" height="0.6" fill="#ee7048"/>
<rect x="584.0" y="1088.1" width="30.3" height="0.6" fill="#666"/>
<rect x="635.0" y="1088.1" width="22.4" height="0.6" fill="#555"/>
<rect x="671.0" y="1088.1" width="3.0" height="0.6" fill="#666"/>
<rect x="699.0" y="1088.1" width="13.5" height="0.6" fill="#666"/>
<rect x="727.0" y="1088.1" width="5.8" height="0.6" fill="#666"/>
<rect x="511.0" y="1096.6" width="238.5" height="0.2" fill="#d8d8d8"/>
<rect x="512.0" y="1093.5" width="1.3" height="0.7" fill="#999"/>
<rect x="516.0" y="1093.2" width="23.1" height="0.6" fill="#666"/>
<rect x="553.0" y="1093.0" width="24.6" height="0.6" fill="#ee7048"/>
<rect x="553.0" y="1094.8" width="20.9" height="0.6" fill="#ee7048"/>
<rect x="584.0" y="1093.2" width="31.8" height="0.6" fill="#666"/>
<rect x="635.0" y="1093.2" width="27.3" height="0.6" fill="#555"/>
<rect x="671.0" y="1093.2" width="3.0" height="0.6" fill="#666"/>
<rect x="699.0" y="1093.2" width="8.7" height="0.6" fill="#666"/>
<rect x="727.0" y="1093.2" width="9.0" height="0.6" fill="#666"/>
<rect x="511.0" y="1101.8" width="238.5" height="0.2" fill="#d8d8d8"/>
<rect x="512.0" y="1098.7" width="1.3" height="0.7" fill="#999"/>
<rect x="516.0" y="1098.4" width="13.0" height="0.6" fill="#666"/>
<rect x="553.0" y="1098.2" width="25.2" height="0.6" fill="#ee7048"/>
<rect x="553.0" y="1100.0" width="27.9" height="0.6" fill="#ee7048"/>
<rect x="584.0" y="1098.4" width="31.4" height="0.6" fill="#666"/>
<rect x="635.0" y="1098.4" width="18.7" height="0.6" fill="#555"/>
<rect x="671.0" y="1098.4" width="3.0" height="0.6" fill="#666"/>
<rect x="699.0" y="1098.4" width="7.6" height="0.6" fill="#666"/>
<rect x="727.0" y="1098.4" width="9.0" height="0.6" fill="#666"/>
<rect x="511.0" y="1106.9" width="238.5" height="0.2" fill="#d8d8d8"/>
<rect x="512.0" y="1103.8" width="1.3" height="0.7" fill="#999"/>
<rect x="516.0" y="1103.5" width="12.4" height="0.6" fill="#666"/>
<rect x="516.0" y="1105.1" width="12.5" height="0.6" fill="#888"/>
<rect x="553.0" y="1103.3" width="20.9" height="0.6" fill="#ee7048"/>
<rect x="553.0" y="1105.1" width="15.8" height="0.6" fill="#ee7048"/>
<rect x="584.0" y="1103.5" width="30.4" height="0.6" fill="#666"/>
<rect x="635.0" y="1103.5" width="16.7" height="0.6" fill="#555"/>
<rect x="671.0" y="1103.5" width="3.0" height="0.6" fill="#666"/>
<rect x="699.0" y="1103.5" width="6.0" height="0.6" fill="#666"/>
<rect x="727.0" y="1103.5" width="6.5" height="0.6" fill="#666"/>
<rect x="511.0" y="1112.1" width="238.5" height="0.2" fill="#d8d8d8"/>
<rect x="512.0" y="1109.0" width="1.3" height="0.7" fill="#999"/>
<rect x="516.0" y="1108.7" width="25.9" height="0.6" fill="#666"/>
<rect x="516.0" y="1110.3" width="16.7" height="0.6" fill="#888"/>
<rect x="553.0" y="1108.5" width="24.4" height="0.6" fill="#ee7048"/>
<rect x="553.0" y="1110.3" width="26.5" height="0.6" fill="#ee7048"/>
<rect x="584.0" y="1108.7" width="31.4" height="0.6" fill="#666"/>
<rect x="635.0" y="1108.7" width="26.2" height="0.6" fill="#555"/>
<rect x="671.0" y="1108.7" width="3.0" height="0.6" fill="#666"/>
<rect x="699.0" y="1108.7" width="6.3" height="0.6" fill="#666"/>
<rect x="727.0" y="1108.7" width="6.7" height="0.6" fill="#666"/>
<rect x="511.0" y="1117.2" width="238.5" height="0.2" fill="#d8d8d8"/>
<rect x="512.0" y="1114.2" width="1.3" height="0.7" fill="#999"/>
<rect x="516.0" y="1113.9" width="17.7" height="0.6" fill="#666"/>
<rect x="553.0" y="1113.7" width="27.7" height="0.6" fill="#ee7048"/>
<rect x="553.0" y="1115.5" width="17.0" height="0.6" fill="#ee7048"/>
<rect x="584.0" y="1113.9" width="18.5" height="0.6" fill="#666"/>
<rect x="635.0" y="1113.9" width="18.0" height="0.6" fill="#555"/>
<rect x="671.0" y="1113.9" width="3.0" height="0.6" fill="#666"/>
<rect x="699.0" y="1113.9" width="5.8" height="0.6" fill="#666"/>
<rect x="727.0" y="1113.9" width="7.4" height="0.6" fill="#666"/>
<rect x="511.0" y="1122.4" width="238.5" height="0.2" fill="#d8d8d8"/>
<rect x="512.0" y="1119.3" width="1.3" height="0.7" fill="#999"/>
<rect x="516.0" y="1119.0" width="21.4" height="0.6" fill="#666"/>
<rect x="516.0" y="1120.6" width="10.1" height="0.6" fill="#888"/>
<rect x="553.0" y="1118.8" width="23.4" height="0.6" fill="#ee7048"/>
<rect x="553.0" y="1120.6" width="19.8" height="0.6" fill="#ee7048"/>
<rect x="584.0" y="1119.0" width="26.3" height="0.6" fill="#666"/>
<rect x="635.0" y="1119.0" width="27.4" height="0.6" fill="#555"/>
<rect x="671.0" y="1119.0" width="3.0" height="0.6" fill="#666"/>
<rect x="699.0" y="1119.0" width="11.3" height="0.6" fill="#666"/>
<rect x="727.0" y="1119.0" width="7.6" height="0.6" fill="#666"/>
<rect x="511.0" y="1127.5" width="238.5" height="0.2" fill="#d8d8d8"/>
<rect x="512.0" y="1124.5" width="1.3" height="0.7" fill="#999"/>
<rect x="516.0" y="1124.2" width="21.9" height="0.6" fill="#666"/>
<rect x="553.0" y="1124.0" width="20.4" height="0.6" fill="#ee7048"/>
<rect x="553.0" y="1125.8" width="26.7" height="0.6" fill="#ee7048"/>
<rect x="584.0" y="1124.2" width="30.6" height="0.6" fill="#666"/>
<rect x="635.0" y="1124.2" width="26.4" height="0.6" fill="#555"/>
<rect x="671.0" y="1124.2" width="3.0" height="0.6" fill="#666"/>
<rect x="699.0" y="1124.2" width="12.6" height="0.6" fill="#666"/>
<rect x="727.0" y="1124.2" width="6.5" height="0.6" fill="#666"/>
<rect x="511.0" y="1132.7" width="238.5" height="0.2" fill="#d8d8d8"/>
<rect x="512.0" y="1129.6" width="1.3" height="0.7" fill="#999"/>
<rect x="516.0" y="1129.3" width="18.4" height="0.6" fill="#666"/>
<rect x="516.0" y="1130.9" width="19.5" height="0.6" fill="#888"/>
<rect x="553.0" y="1129.1" width="20.5" height="0.6" fill="#ee7048"/>
<rect x="553.0" y="1130.9" width="15.9" height="0.6" fill="#ee7048"/>
<rect x="584.0" y="1129.3" width="19.2" height="0.6" fill="#666"/>
<rect x="635.0" y="1129.3" width="17.1" height="0.6" fill="#555"/>
<rect x="671.0" y="1129.3" width="3.0" height="0.6" fill="#666"/>
<rect x="699.0" y="1129.3" width="7.1" height="0.6" fill="#666"/>
<rect x="727.0" y="1129.3" width="3.5" height="0.6" fill="#666"/>
<rect x="511.0" y="1137.8" width="238.5" height="0.2" fill="#d8d8d8"/>
<rect x="512.0" y="1134.8" width="1.3" height="0.7" fill="#999"/>
<rect x="516.0" y="1134.5" width="12.0" height="0.6" fill="#666"/>
<rect x="516.0" y="1136.0" width="11.5" height="0.6" fill="#888"/>
<rect x="553.0" y="1134.2" width="22.9" height="0.6" fill="#ee7048"/>
<rect x="553.0" y="1136.0" width="15.3" height="0.6" fill="#ee7048"/>
<rect x="584.0" y="1134.5" width="32.5" height="0.6" fill="#666"/>
<rect x="635.0" y="1134.5" width="23.0" height="0.6" fill="#555"/>
<rect x="671.0" y="1134.5" width="3.0" height="0.6" fill="#666"/>
<rect x="699.0" y="1134.5" width="4.8" height="0.6" fill="#666"/>
<rect x="727.0" y="1134.5" width="5.3" height="0.6" fill="#666"/>
<rect x="511.0" y="1143.0" width="238.5" height="0.2" fill="#d8d8d8"/>
<rect x="512.0" y="1139.9" width="1.3" height="0.7" fill="#999"/>
<rect x="516.0" y="1139.6" width="17.6" height="0.6" fill="#666"/>
<rect x="516.0" y="1141.2" width="11.8" height="0.6" fill="#888"/>
<rect x="553.0" y="1139.4" width="26.8" height="0.6" fill="#ee7048"/>
<rect x="553.0" y="1141.2" width="27.9" height="0.6" fill="#ee7048"/>
<rect x="584.0" y="1139.6" width="24.3" height="0.6" fill="#666"/>
<rect x="635.0" y="1139.6" width="21.3" height="0.6" fill="#555"/>
<rect x="671.0" y="1139.6" width="3.0" height="0.6" fill="#666"/>
<rect x="699.0" y="1139.6" width="4.0" height="0.6" fill="#666"/>
<rect x="727.0" y="1139.6" width="3.9" height="0.6" fill="#666"/>
<rect x="511.0" y="1148.1" width="238.5" height="0.2" fill="#d8d8d8"/>
<rect x="512.0" y="1145.0" width="1.3" height="0.7" fill="#999"/>
<rect x="516.0" y="1144.8" width="17.5" height="0.6" fill="#666"/>
<rect x="516.0" y="1146.3" width="22.4" height="0.6" fill="#888"/>
<rect x="553.0" y="1144.5" width="21.3" height="0.6" fill="#ee7048"/>
<rect x="553.0" y="1146.3" width="15.3" height="0.6" fill="#ee7048"/>
<rect x="584.0" y="1144.8" width="34.0" height="0.6" fill="#666"/>
<rect x="635.0" y="1144.8" width="21.9" height="0.6" fill="#555"/>
<rect x="671.0" y="1144.8" width="3.0" height="0.6" fill="#666"/>
<rect x="699.0" y="1144.8" width="4.8" height="0.6" fill="#666"/>
<rect x="727.0" y="1144.8" width="7.9" height="0.6" fill="#666"/>
<rect x="511.0" y="1153.3" width="238.5" height="0.2" fill="#d8d8d8"/>
<rect x="512.0" y="1150.2" width="1.3" height="0.7" fill="#999"/>
<rect x="516.0" y="1149.9" width="12.4" height="0.6" fill="#666"/>
<rect x="553.0" y="1149.7" width="27.8" height="0.6" fill="#ee7048"/>
<rect x="553.0" y="1151.5" width="26.2" height="0.6" fill="#ee7048"/>
<rect x="584.0" y="1149.9" width="28.9" height="0.6" fill="#666"/>
<rect x="635.0" y="1149.9" width="18.4" height="0.6" fill="#555"/>
<rect x="671.0" y="1149.9" width="3.0" height="0.6" fill="#666"/>
<rect x="699.0" y="1149.9" width="7.4" height="0.6" fill="#666"/>
<rect x="727.0" y="1149.9" width="4.5" height="0.6" fill="#666"/>

<g fill="none" stroke="#cf0a47" stroke-width="2">
  <rect x="5" y="548.3" width="156" height="110.6"/>
  <rect x="218.6" y="548.3" width="156" height="110.6"/>
  <rect x="504.3" y="548.5" width="155.9" height="110.4"/>
  <rect x="718.2" y="548.5" width="155.9" height="110.4"/>
  <rect x="7.8" y="1045.7" width="155.4" height="110.1"/>
  <rect x="221.2" y="1046.1" width="155.5" height="109.5"/>
  <rect x="510" y="1046.5" width="240" height="109.2"/>
</g>
<g stroke="#cf0a47" stroke-width="1.6" fill="none">
  <line x1="170" y1="604" x2="207.5" y2="604"/>
  <line x1="391" y1="604" x2="485.5" y2="604"/>
  <polyline points="473,592 485.5,604 473,616"/>
  <line x1="670" y1="604" x2="708.2" y2="604"/>
  <polyline points="682.7,756.8 682.7,781 663.2,800.2 222.4,800.1 202.8,819.7 203,844.5"/>
  <polyline points="190.8,833 203,845 214.9,833"/>
  <line x1="173" y1="1101" x2="211.3" y2="1101"/>
  <line x1="396" y1="1101" x2="490.5" y2="1101"/>
  <polyline points="478.3,1089 490.5,1101 478.3,1113"/>
</g>


<rect x="5" y="37" width="68" height="2" fill="#cf0a47"/>
<rect x="5" y="278" width="85" height="2" fill="#cf0a47"/>
<g fill="#cf0a47"><rect x="39.4" y="359.2" width="2.9" height="19"/><rect x="36.9" y="361.8" width="2.6" height="3"/><rect x="6.90" y="367.40" width="19" height="3.2"/><rect x="17.60" y="361.80" width="3.3" height="3"/><rect x="20.90" y="364.80" width="2.6" height="2.8"/><rect x="20.90" y="370.50" width="2.6" height="2.8"/><rect x="17.60" y="373.20" width="3.3" height="3"/><rect x="505.50" y="367.40" width="19" height="3.2"/><rect x="516.20" y="361.80" width="3.3" height="3"/><rect x="519.50" y="364.80" width="2.6" height="2.8"/><rect x="519.50" y="370.50" width="2.6" height="2.8"/><rect x="516.20" y="373.20" width="3.3" height="3"/><rect x="8.15" y="889.00" width="19" height="3.2"/><rect x="18.85" y="883.40" width="3.3" height="3"/><rect x="22.15" y="886.40" width="2.6" height="2.8"/><rect x="22.15" y="892.10" width="2.6" height="2.8"/><rect x="18.85" y="894.80" width="3.3" height="3"/><rect x="511.00" y="889.00" width="19" height="3.2"/><rect x="521.70" y="883.40" width="3.3" height="3"/><rect x="525.00" y="886.40" width="2.6" height="2.8"/><rect x="525.00" y="892.10" width="2.6" height="2.8"/><rect x="521.70" y="894.80" width="3.3" height="3"/></g>

<g fill="#cf0a47">
<text x="4.81" y="28.40" font-size="15.6" font-weight="400" textLength="68.16" lengthAdjust="spacingAndGlyphs" stroke="#cf0a47" stroke-width="0.55" style="white-space:pre">CONTEXT</text>
<text x="3.73" y="65.30" font-size="18.6" font-weight="400" textLength="257.93" lengthAdjust="spacingAndGlyphs" stroke="#cf0a47" stroke-width="0.7" style="white-space:pre">In which context is it useful?</text>
<text x="5.55" y="136.50" font-size="24.0" font-weight="400" textLength="818.13" lengthAdjust="spacingAndGlyphs" stroke="#cf0a47" stroke-width="0.9" style="white-space:pre">This project is imagined for a mhackerspace, a hacklab, makerspace  or</text>
<text x="4.34" y="169.00" font-size="24.0" font-weight="400" textLength="851.73" lengthAdjust="spacingAndGlyphs" stroke="#cf0a47" stroke-width="0.9" style="white-space:pre">harckerspace. The space has wood machines, 3d printers, electronic tools,</text>
<text x="5.53" y="201.00" font-size="24.0" font-weight="400" textLength="774.42" lengthAdjust="spacingAndGlyphs" stroke="#cf0a47" stroke-width="0.9" style="white-space:pre">space for rehearsals and to collaborate or a combination of these.</text>
<text x="4.23" y="269.70" font-size="15.6" font-weight="400" textLength="86.06" lengthAdjust="spacingAndGlyphs" stroke="#cf0a47" stroke-width="0.55" style="white-space:pre">HOW TO USE</text>
<text x="3.84" y="306.50" font-size="18.6" font-weight="400" textLength="463.89" lengthAdjust="spacingAndGlyphs" stroke="#cf0a47" stroke-width="0.7" style="white-space:pre">How does the project work and how can it be applied?</text>
<text x="53.77" y="378.50" font-size="26.5" font-weight="400" textLength="144.34" lengthAdjust="spacingAndGlyphs" stroke="#cf0a47" stroke-width="0.7" style="white-space:pre">Orientation</text>
<text x="531.24" y="378.50" font-size="26.5" font-weight="400" textLength="15.54" lengthAdjust="spacingAndGlyphs" stroke="#cf0a47" stroke-width="0.7" style="white-space:pre">2</text>
<text x="554.35" y="378.50" font-size="26.5" font-weight="400" textLength="102.36" lengthAdjust="spacingAndGlyphs" stroke="#cf0a47" stroke-width="0.7" style="white-space:pre">Analysis</text>
<text x="35.46" y="899.70" font-size="26.5" font-weight="400" textLength="14.12" lengthAdjust="spacingAndGlyphs" stroke="#cf0a47" stroke-width="0.7" style="white-space:pre">3</text>
<text x="56.35" y="899.70" font-size="26.5" font-weight="400" textLength="140.68" lengthAdjust="spacingAndGlyphs" stroke="#cf0a47" stroke-width="0.7" style="white-space:pre">Exploration</text>
<text x="537.96" y="899.70" font-size="26.5" font-weight="400" textLength="13.91" lengthAdjust="spacingAndGlyphs" stroke="#cf0a47" stroke-width="0.7" style="white-space:pre">4</text>
<text x="558.06" y="899.70" font-size="26.5" font-weight="400" textLength="103.65" lengthAdjust="spacingAndGlyphs" stroke="#cf0a47" stroke-width="0.7" style="white-space:pre">Research</text>
<text x="5.90" y="426.60" font-size="19.0" font-weight="400" textLength="355.79" lengthAdjust="spacingAndGlyphs" stroke="#cf0a47" stroke-width="0.85" style="white-space:pre">Overview of the level of embodiness and</text>
<text x="5.47" y="451.00" font-size="19.0" font-weight="400" textLength="390.33" lengthAdjust="spacingAndGlyphs" stroke="#cf0a47" stroke-width="0.85" style="white-space:pre">participation and ofthe kind of interaction</text>
<text x="5.58" y="475.30" font-size="19.0" font-weight="400" textLength="343.30" lengthAdjust="spacingAndGlyphs" stroke="#cf0a47" stroke-width="0.85" style="white-space:pre">between the people and the data in the</text>
<text x="6.23" y="499.70" font-size="19.0" font-weight="400" textLength="195.07" lengthAdjust="spacingAndGlyphs" stroke="#cf0a47" stroke-width="0.85" style="white-space:pre">corpus of case studies.</text>
<text x="503.85" y="426.60" font-size="19.0" font-weight="400" textLength="361.55" lengthAdjust="spacingAndGlyphs" stroke="#cf0a47" stroke-width="0.85" style="white-space:pre">First all categories and requirements are</text>
<text x="504.16" y="451.00" font-size="19.0" font-weight="400" textLength="343.64" lengthAdjust="spacingAndGlyphs" stroke="#cf0a47" stroke-width="0.85" style="white-space:pre">listed and explained. Second the inter-</text>
<text x="505.10" y="475.30" font-size="19.0" font-weight="400" textLength="365.13" lengthAdjust="spacingAndGlyphs" stroke="#cf0a47" stroke-width="0.85" style="white-space:pre">sections illustrate the project categories</text>
<text x="505.43" y="499.70" font-size="19.0" font-weight="400" textLength="183.46" lengthAdjust="spacingAndGlyphs" stroke="#cf0a47" stroke-width="0.85" style="white-space:pre">that are more useful.</text>
<text x="7.40" y="948.50" font-size="19.0" font-weight="400" textLength="369.00" lengthAdjust="spacingAndGlyphs" stroke="#cf0a47" stroke-width="0.85" style="white-space:pre">This last visualization can be explored to</text>
<text x="6.47" y="972.70" font-size="19.0" font-weight="400" textLength="398.24" lengthAdjust="spacingAndGlyphs" stroke="#cf0a47" stroke-width="0.85" style="white-space:pre">understand the project phases, activities and</text>
<text x="6.52" y="996.90" font-size="19.0" font-weight="400" textLength="192.66" lengthAdjust="spacingAndGlyphs" stroke="#cf0a47" stroke-width="0.85" style="white-space:pre">necessary equipments</text>
<text x="503.92" y="948.50" font-size="19.0" font-weight="400" textLength="379.25" lengthAdjust="spacingAndGlyphs" stroke="#cf0a47" stroke-width="0.85" style="white-space:pre">Examples of the case study can be explored</text>
<text x="505.43" y="972.70" font-size="19.0" font-weight="400" textLength="384.80" lengthAdjust="spacingAndGlyphs" stroke="#cf0a47" stroke-width="0.85" style="white-space:pre">further through the database that contains</text>
<text x="504.79" y="996.90" font-size="19.0" font-weight="400" textLength="305.62" lengthAdjust="spacingAndGlyphs" stroke="#cf0a47" stroke-width="0.85" style="white-space:pre">all the data used for this research.</text>
<text x="5.37" y="707.80" font-size="20" font-weight="400" textLength="53.46" lengthAdjust="spacingAndGlyphs" stroke="#cf0a47" stroke-width="0.4" style="white-space:pre">(PAGE</text>
<text x="68.58" y="707.80" font-size="20" font-weight="400" textLength="78.23" lengthAdjust="spacingAndGlyphs" stroke="#cf0a47" stroke-width="0.4" style="white-space:pre">130-131)</text>
<text x="218.99" y="707.80" font-size="20" font-weight="400" textLength="52.33" lengthAdjust="spacingAndGlyphs" stroke="#cf0a47" stroke-width="0.4" style="white-space:pre">(PAGE</text>
<text x="281.12" y="707.80" font-size="20" font-weight="400" textLength="82.14" lengthAdjust="spacingAndGlyphs" stroke="#cf0a47" stroke-width="0.4" style="white-space:pre">132-133)</text>
<text x="504.18" y="707.80" font-size="20" font-weight="400" textLength="52.95" lengthAdjust="spacingAndGlyphs" stroke="#cf0a47" stroke-width="0.4" style="white-space:pre">(PAGE</text>
<text x="566.90" y="707.80" font-size="20" font-weight="400" textLength="82.97" lengthAdjust="spacingAndGlyphs" stroke="#cf0a47" stroke-width="0.4" style="white-space:pre">134-135)</text>
<text x="717.38" y="707.80" font-size="20" font-weight="400" textLength="52.95" lengthAdjust="spacingAndGlyphs" stroke="#cf0a47" stroke-width="0.4" style="white-space:pre">(PAGE</text>
<text x="780.11" y="707.80" font-size="20" font-weight="400" textLength="82.76" lengthAdjust="spacingAndGlyphs" stroke="#cf0a47" stroke-width="0.4" style="white-space:pre">136-137)</text>
<text x="7.18" y="1205.20" font-size="20" font-weight="400" textLength="53.36" lengthAdjust="spacingAndGlyphs" stroke="#cf0a47" stroke-width="0.4" style="white-space:pre">(PAGE</text>
<text x="70.24" y="1205.20" font-size="20" font-weight="400" textLength="81.01" lengthAdjust="spacingAndGlyphs" stroke="#cf0a47" stroke-width="0.4" style="white-space:pre">138-139)</text>
<text x="220.38" y="1205.20" font-size="20" font-weight="400" textLength="53.16" lengthAdjust="spacingAndGlyphs" stroke="#cf0a47" stroke-width="0.4" style="white-space:pre">(PAGE</text>
<text x="283.49" y="1205.20" font-size="20" font-weight="400" textLength="77.31" lengthAdjust="spacingAndGlyphs" stroke="#cf0a47" stroke-width="0.4" style="white-space:pre">140-141)</text>
<text x="509.34" y="1205.50" font-size="20" font-weight="400" textLength="48.03" lengthAdjust="spacingAndGlyphs" stroke="#cf0a47" stroke-width="0.45" style="white-space:pre">(LINK</text>
<text x="562.18" y="1205.50" font-size="20" font-weight="400" textLength="146.80" lengthAdjust="spacingAndGlyphs" stroke="#cf0a47" stroke-width="0.45" style="white-space:pre">bit.ly/2TZdrAr)</text>
</g>
</svg>
</body></html>
